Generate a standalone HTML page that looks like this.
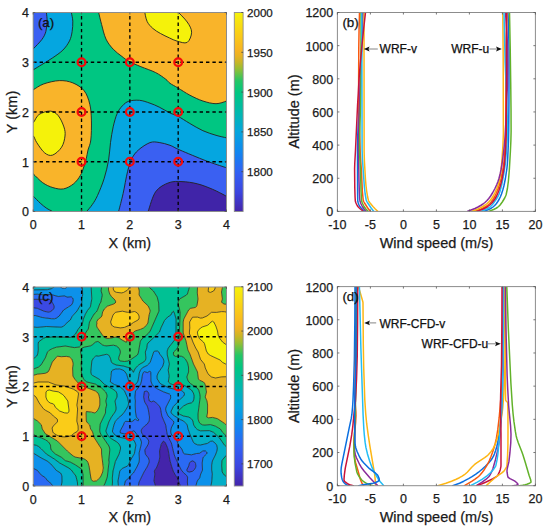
<!DOCTYPE html><html><head><meta charset="utf-8"><style>html,body{margin:0;padding:0;background:#fff;width:550px;height:532px;overflow:hidden}svg{display:block}</style></head><body><svg width="550" height="532" viewBox="0 0 550 532" font-family='"Liberation Sans", sans-serif'><rect width="550" height="532" fill="#fff"/><defs><clipPath id="clipA"><rect x="33.2" y="12.5" width="193.3" height="199.0"/></clipPath></defs><g clip-path="url(#clipA)"><rect x="33.2" y="12.5" width="193.3" height="199.0" fill="#00c682"/><path d="M71.40 10.00C71.40 10.43 71.17 10.73 71.40 12.60C71.63 14.47 72.68 18.02 72.80 21.20C72.92 24.38 72.65 28.42 72.10 31.70C71.55 34.98 71.03 37.83 69.50 40.90C67.97 43.97 65.75 47.25 62.90 50.10C60.05 52.95 55.92 55.58 52.40 58.00C48.88 60.42 44.98 62.63 41.80 64.60C38.62 66.57 35.27 68.57 33.30 69.80C31.33 71.03 30.55 71.63 30.00 72.00L30 10Z" fill="#05a6e0"/><path d="M46.20 10.00C46.23 10.43 46.25 10.73 46.40 12.60C46.55 14.47 47.20 18.02 47.10 21.20C47.00 24.38 46.68 28.63 45.80 31.70C44.92 34.77 43.88 36.75 41.80 39.60C39.72 42.45 35.27 46.73 33.30 48.80C31.33 50.87 30.55 51.47 30.00 52.00L30 10Z" fill="#3a60f2"/><path d="M30.00 193.00C30.53 193.52 31.50 194.42 33.20 196.10C34.90 197.78 37.98 201.08 40.20 203.10C42.42 205.12 44.48 206.82 46.50 208.20C48.52 209.58 50.88 210.43 52.30 211.40C53.72 212.37 54.55 213.57 55.00 214.00L30 214Z" fill="#05a6e0"/><path d="M84.00 214.00C84.43 213.58 85.20 213.10 86.60 211.50C88.00 209.90 90.58 207.07 92.40 204.40C94.22 201.73 95.53 199.83 97.50 195.50C99.47 191.17 102.35 184.32 104.20 178.40C106.05 172.48 107.55 165.97 108.60 160.00C109.65 154.03 109.73 148.13 110.50 142.60C111.27 137.07 112.10 131.62 113.20 126.80C114.30 121.98 115.57 117.20 117.10 113.70C118.63 110.20 120.43 107.88 122.40 105.80C124.37 103.72 126.05 102.12 128.90 101.20C131.75 100.28 135.98 99.97 139.50 100.30C143.02 100.63 146.72 102.07 150.00 103.20C153.28 104.33 155.87 105.47 159.20 107.10C162.53 108.73 166.88 111.48 170.00 113.00C173.12 114.52 174.62 114.47 177.90 116.20C181.18 117.93 185.53 120.98 189.70 123.40C193.87 125.82 198.52 128.72 202.90 130.70C207.28 132.68 212.05 134.10 216.00 135.30C219.95 136.50 224.27 137.28 226.60 137.90C228.93 138.52 229.43 138.82 230.00 139.00L230 214Z" fill="#05a6e0"/><path d="M117.80 214.00C117.95 213.52 117.82 214.50 118.70 211.10C119.58 207.70 121.63 200.15 123.10 193.60C124.57 187.05 126.05 177.62 127.50 171.80C128.95 165.98 129.98 162.33 131.80 158.70C133.62 155.07 135.37 152.68 138.40 150.00C141.43 147.32 146.53 143.85 150.00 142.60C153.47 141.35 155.87 142.05 159.20 142.50C162.53 142.95 166.57 144.05 170.00 145.30C173.43 146.55 173.80 147.42 179.80 150.00C185.80 152.58 198.37 157.88 206.00 160.80C213.63 163.72 221.60 166.13 225.60 167.50C229.60 168.87 229.27 168.75 230.00 169.00L230 214Z" fill="#3a60f2"/><path d="M146.80 214.00C147.03 213.52 146.70 214.85 148.20 211.10C149.70 207.35 152.35 196.23 155.80 191.50C159.25 186.77 164.53 184.35 168.90 182.70C173.27 181.05 177.27 181.42 182.00 181.60C186.73 181.78 192.20 182.52 197.30 183.80C202.40 185.08 207.88 187.30 212.60 189.30C217.32 191.30 222.70 194.27 225.60 195.80C228.50 197.33 229.27 198.05 230.00 198.50L230 214Z" fill="#4024a8"/><path d="M98.40 10.00C98.45 10.43 98.17 10.18 98.70 12.60C99.23 15.02 100.38 20.08 101.60 24.50C102.82 28.92 104.05 34.97 106.00 39.10C107.95 43.23 110.63 46.40 113.30 49.30C115.97 52.20 119.33 54.45 122.00 56.50C124.67 58.55 126.15 59.90 129.30 61.60C132.45 63.30 136.53 64.88 140.90 66.70C145.27 68.52 151.38 70.43 155.50 72.50C159.62 74.57 163.18 77.30 165.60 79.10C168.02 80.90 167.95 81.83 170.00 83.30C172.05 84.77 174.62 85.93 177.90 87.90C181.18 89.87 185.53 92.92 189.70 95.10C193.87 97.28 198.52 99.57 202.90 101.00C207.28 102.43 212.05 103.70 216.00 103.70C219.95 103.70 224.27 101.78 226.60 101.00C228.93 100.22 229.43 99.33 230.00 99.00L230 10Z" fill="#f9b42a"/><path d="M30.00 90.50C30.55 90.37 31.05 90.78 33.30 89.70C35.55 88.62 39.17 85.52 43.50 84.00C47.83 82.48 54.40 80.78 59.30 80.60C64.20 80.42 68.75 81.20 72.90 82.90C77.05 84.60 81.38 87.23 84.20 90.80C87.02 94.37 88.60 99.42 89.80 104.30C91.00 109.18 91.23 114.15 91.40 120.10C91.57 126.05 91.37 135.02 90.80 140.00C90.23 144.98 88.75 146.92 88.00 150.00C87.25 153.08 87.00 155.68 86.30 158.50C85.60 161.32 84.78 164.08 83.80 166.90C82.82 169.72 82.10 172.58 80.40 175.40C78.70 178.22 76.42 181.55 73.60 183.80C70.78 186.05 66.95 188.27 63.50 188.90C60.05 189.53 56.37 188.63 52.90 187.60C49.43 186.57 45.98 185.00 42.70 182.70C39.42 180.40 35.32 175.75 33.20 173.80C31.08 171.85 30.53 171.47 30.00 171.00Z" fill="#f9b42a"/><path d="M144.50 11.00C144.93 12.73 145.72 18.50 147.10 21.40C148.48 24.30 150.57 26.38 152.80 28.40C155.03 30.42 157.73 31.92 160.50 33.50C163.27 35.08 166.65 36.63 169.40 37.90C172.15 39.17 174.03 40.35 177.00 41.10C179.97 41.85 184.77 43.88 187.20 42.40C189.63 40.92 191.60 35.60 191.60 32.20C191.60 28.80 189.63 25.53 187.20 22.00C184.77 18.47 178.70 12.83 177.00 11.00Z" fill="#f5f20a"/><path d="M30.00 122.00C30.57 122.07 31.90 123.65 33.40 122.40C34.90 121.15 36.18 116.38 39.00 114.50C41.82 112.62 47.10 110.92 50.30 111.10C53.50 111.28 55.93 112.97 58.20 115.60C60.47 118.23 62.77 123.50 63.90 126.90C65.03 130.30 65.38 132.62 65.00 136.00C64.62 139.38 63.67 144.02 61.60 147.20C59.53 150.38 55.42 154.15 52.60 155.10C49.78 156.05 47.33 154.97 44.70 152.90C42.07 150.83 38.68 145.52 36.80 142.70C34.92 139.88 34.53 137.12 33.40 136.00C32.27 134.88 30.57 136.00 30.00 136.00Z" fill="#f5f20a"/><path d="M71.40 10.00C71.40 10.43 71.17 10.73 71.40 12.60C71.63 14.47 72.68 18.02 72.80 21.20C72.92 24.38 72.65 28.42 72.10 31.70C71.55 34.98 71.03 37.83 69.50 40.90C67.97 43.97 65.75 47.25 62.90 50.10C60.05 52.95 55.92 55.58 52.40 58.00C48.88 60.42 44.98 62.63 41.80 64.60C38.62 66.57 35.27 68.57 33.30 69.80C31.33 71.03 30.55 71.63 30.00 72.00" fill="none" stroke="#222" stroke-width="0.9"/><path d="M46.20 10.00C46.23 10.43 46.25 10.73 46.40 12.60C46.55 14.47 47.20 18.02 47.10 21.20C47.00 24.38 46.68 28.63 45.80 31.70C44.92 34.77 43.88 36.75 41.80 39.60C39.72 42.45 35.27 46.73 33.30 48.80C31.33 50.87 30.55 51.47 30.00 52.00" fill="none" stroke="#222" stroke-width="0.9"/><path d="M30.00 193.00C30.53 193.52 31.50 194.42 33.20 196.10C34.90 197.78 37.98 201.08 40.20 203.10C42.42 205.12 44.48 206.82 46.50 208.20C48.52 209.58 50.88 210.43 52.30 211.40C53.72 212.37 54.55 213.57 55.00 214.00" fill="none" stroke="#222" stroke-width="0.9"/><path d="M84.00 214.00C84.43 213.58 85.20 213.10 86.60 211.50C88.00 209.90 90.58 207.07 92.40 204.40C94.22 201.73 95.53 199.83 97.50 195.50C99.47 191.17 102.35 184.32 104.20 178.40C106.05 172.48 107.55 165.97 108.60 160.00C109.65 154.03 109.73 148.13 110.50 142.60C111.27 137.07 112.10 131.62 113.20 126.80C114.30 121.98 115.57 117.20 117.10 113.70C118.63 110.20 120.43 107.88 122.40 105.80C124.37 103.72 126.05 102.12 128.90 101.20C131.75 100.28 135.98 99.97 139.50 100.30C143.02 100.63 146.72 102.07 150.00 103.20C153.28 104.33 155.87 105.47 159.20 107.10C162.53 108.73 166.88 111.48 170.00 113.00C173.12 114.52 174.62 114.47 177.90 116.20C181.18 117.93 185.53 120.98 189.70 123.40C193.87 125.82 198.52 128.72 202.90 130.70C207.28 132.68 212.05 134.10 216.00 135.30C219.95 136.50 224.27 137.28 226.60 137.90C228.93 138.52 229.43 138.82 230.00 139.00" fill="none" stroke="#222" stroke-width="0.9"/><path d="M117.80 214.00C117.95 213.52 117.82 214.50 118.70 211.10C119.58 207.70 121.63 200.15 123.10 193.60C124.57 187.05 126.05 177.62 127.50 171.80C128.95 165.98 129.98 162.33 131.80 158.70C133.62 155.07 135.37 152.68 138.40 150.00C141.43 147.32 146.53 143.85 150.00 142.60C153.47 141.35 155.87 142.05 159.20 142.50C162.53 142.95 166.57 144.05 170.00 145.30C173.43 146.55 173.80 147.42 179.80 150.00C185.80 152.58 198.37 157.88 206.00 160.80C213.63 163.72 221.60 166.13 225.60 167.50C229.60 168.87 229.27 168.75 230.00 169.00" fill="none" stroke="#222" stroke-width="0.9"/><path d="M146.80 214.00C147.03 213.52 146.70 214.85 148.20 211.10C149.70 207.35 152.35 196.23 155.80 191.50C159.25 186.77 164.53 184.35 168.90 182.70C173.27 181.05 177.27 181.42 182.00 181.60C186.73 181.78 192.20 182.52 197.30 183.80C202.40 185.08 207.88 187.30 212.60 189.30C217.32 191.30 222.70 194.27 225.60 195.80C228.50 197.33 229.27 198.05 230.00 198.50" fill="none" stroke="#222" stroke-width="0.9"/><path d="M98.40 10.00C98.45 10.43 98.17 10.18 98.70 12.60C99.23 15.02 100.38 20.08 101.60 24.50C102.82 28.92 104.05 34.97 106.00 39.10C107.95 43.23 110.63 46.40 113.30 49.30C115.97 52.20 119.33 54.45 122.00 56.50C124.67 58.55 126.15 59.90 129.30 61.60C132.45 63.30 136.53 64.88 140.90 66.70C145.27 68.52 151.38 70.43 155.50 72.50C159.62 74.57 163.18 77.30 165.60 79.10C168.02 80.90 167.95 81.83 170.00 83.30C172.05 84.77 174.62 85.93 177.90 87.90C181.18 89.87 185.53 92.92 189.70 95.10C193.87 97.28 198.52 99.57 202.90 101.00C207.28 102.43 212.05 103.70 216.00 103.70C219.95 103.70 224.27 101.78 226.60 101.00C228.93 100.22 229.43 99.33 230.00 99.00" fill="none" stroke="#222" stroke-width="0.9"/><path d="M30.00 90.50C30.55 90.37 31.05 90.78 33.30 89.70C35.55 88.62 39.17 85.52 43.50 84.00C47.83 82.48 54.40 80.78 59.30 80.60C64.20 80.42 68.75 81.20 72.90 82.90C77.05 84.60 81.38 87.23 84.20 90.80C87.02 94.37 88.60 99.42 89.80 104.30C91.00 109.18 91.23 114.15 91.40 120.10C91.57 126.05 91.37 135.02 90.80 140.00C90.23 144.98 88.75 146.92 88.00 150.00C87.25 153.08 87.00 155.68 86.30 158.50C85.60 161.32 84.78 164.08 83.80 166.90C82.82 169.72 82.10 172.58 80.40 175.40C78.70 178.22 76.42 181.55 73.60 183.80C70.78 186.05 66.95 188.27 63.50 188.90C60.05 189.53 56.37 188.63 52.90 187.60C49.43 186.57 45.98 185.00 42.70 182.70C39.42 180.40 35.32 175.75 33.20 173.80C31.08 171.85 30.53 171.47 30.00 171.00" fill="none" stroke="#222" stroke-width="0.9"/><path d="M144.50 11.00C144.93 12.73 145.72 18.50 147.10 21.40C148.48 24.30 150.57 26.38 152.80 28.40C155.03 30.42 157.73 31.92 160.50 33.50C163.27 35.08 166.65 36.63 169.40 37.90C172.15 39.17 174.03 40.35 177.00 41.10C179.97 41.85 184.77 43.88 187.20 42.40C189.63 40.92 191.60 35.60 191.60 32.20C191.60 28.80 189.63 25.53 187.20 22.00C184.77 18.47 178.70 12.83 177.00 11.00" fill="none" stroke="#222" stroke-width="0.9"/><path d="M30.00 122.00C30.57 122.07 31.90 123.65 33.40 122.40C34.90 121.15 36.18 116.38 39.00 114.50C41.82 112.62 47.10 110.92 50.30 111.10C53.50 111.28 55.93 112.97 58.20 115.60C60.47 118.23 62.77 123.50 63.90 126.90C65.03 130.30 65.38 132.62 65.00 136.00C64.62 139.38 63.67 144.02 61.60 147.20C59.53 150.38 55.42 154.15 52.60 155.10C49.78 156.05 47.33 154.97 44.70 152.90C42.07 150.83 38.68 145.52 36.80 142.70C34.92 139.88 34.53 137.12 33.40 136.00C32.27 134.88 30.57 136.00 30.00 136.00" fill="none" stroke="#222" stroke-width="0.9"/><path d="M81.53 211.5V12.5" stroke="#000" stroke-width="1.35" stroke-dasharray="3.4 3.0"/><path d="M33.2 161.75H226.5" stroke="#000" stroke-width="1.35" stroke-dasharray="3.4 3.0"/><path d="M129.85 211.5V12.5" stroke="#000" stroke-width="1.35" stroke-dasharray="3.4 3.0"/><path d="M33.2 112.00H226.5" stroke="#000" stroke-width="1.35" stroke-dasharray="3.4 3.0"/><path d="M178.18 211.5V12.5" stroke="#000" stroke-width="1.35" stroke-dasharray="3.4 3.0"/><path d="M33.2 62.25H226.5" stroke="#000" stroke-width="1.35" stroke-dasharray="3.4 3.0"/></g><circle cx="81.53" cy="161.75" r="3.9" fill="none" stroke="#f50a0a" stroke-width="2.2"/><circle cx="81.53" cy="112.00" r="3.9" fill="none" stroke="#f50a0a" stroke-width="2.2"/><circle cx="81.53" cy="62.25" r="3.9" fill="none" stroke="#f50a0a" stroke-width="2.2"/><circle cx="129.85" cy="161.75" r="3.9" fill="none" stroke="#f50a0a" stroke-width="2.2"/><circle cx="129.85" cy="112.00" r="3.9" fill="none" stroke="#f50a0a" stroke-width="2.2"/><circle cx="129.85" cy="62.25" r="3.9" fill="none" stroke="#f50a0a" stroke-width="2.2"/><circle cx="178.18" cy="161.75" r="3.9" fill="none" stroke="#f50a0a" stroke-width="2.2"/><circle cx="178.18" cy="112.00" r="3.9" fill="none" stroke="#f50a0a" stroke-width="2.2"/><circle cx="178.18" cy="62.25" r="3.9" fill="none" stroke="#f50a0a" stroke-width="2.2"/><text x="37.9" y="26.8" font-size="13.4" fill="#111" stroke="#111" stroke-width="0.25">(a)</text><defs><clipPath id="clipB"><rect x="337.4" y="12.5" width="198.0" height="198.9"/></clipPath></defs><g clip-path="url(#clipB)" fill="none" stroke-width="1.5" stroke-linejoin="round"><path d="M363.00 12.50L360.42 82.00L358.34 121.00L357.72 136.00L357.50 149.00L357.61 193.50L357.78 201.00L358.26 203.00L359.00 205.00L359.84 206.50L361.11 208.00L362.73 209.50L365.30 211.50" stroke="#0a6fe0"/><path d="M508.00 12.50L508.74 35.50L509.06 52.00L508.94 103.00L508.69 131.00L508.46 141.50L507.65 159.50L507.36 164.00L506.90 168.50L505.33 179.00L503.86 186.00L502.78 190.00L501.50 194.00L500.52 196.50L499.29 199.00L497.82 201.50L496.44 203.50L494.69 205.50L493.00 207.00L491.53 208.00L489.69 209.00L483.90 211.50" stroke="#0a6fe0"/><path d="M359.50 12.50L359.07 29.50L358.78 47.50L358.62 87.00L359.11 118.00L360.26 153.50L361.49 171.50L362.34 191.00L363.20 200.00L363.67 201.50L364.52 203.00L367.40 207.50L370.40 211.50" stroke="#f85a10"/><path d="M507.00 12.50L506.35 37.00L506.04 54.50L505.73 134.50L505.38 143.00L504.73 152.50L503.80 163.00L502.98 169.00L500.97 179.00L498.98 186.00L497.55 190.00L495.90 194.00L494.45 197.00L492.95 199.50L491.10 202.00L489.68 203.50L487.91 205.00L485.79 206.50L484.14 207.50L481.01 209.00L474.40 211.50" stroke="#f85a10"/><path d="M364.00 12.50L364.11 151.50L364.40 161.00L365.44 179.00L365.99 185.50L366.64 191.00L367.55 196.50L368.45 200.50L368.96 201.50L369.65 202.50L372.95 206.50L375.32 209.00L378.00 211.50" stroke="#fdb614"/><path d="M502.80 12.50L503.19 58.50L503.37 133.50L502.95 145.00L501.91 160.50L501.17 169.00L500.24 176.00L499.71 179.00L498.99 182.00L498.06 185.00L496.76 188.50L495.01 192.50L493.52 195.50L491.96 198.00L490.45 200.00L488.70 202.00L487.10 203.50L485.15 205.00L482.85 206.50L481.09 207.50L477.86 209.00L471.20 211.50" stroke="#fdb614"/><path d="M362.50 12.50L360.41 83.00L359.11 119.00L358.67 134.50L358.51 153.00L359.00 181.00L359.38 193.00L359.73 199.00L359.95 201.00L360.82 203.50L362.32 206.50L364.17 209.00L366.50 211.50" stroke="#8a2c9c"/><path d="M505.50 12.50L506.92 32.50L507.66 49.50L507.78 65.50L507.42 85.50L506.45 111.00L505.05 137.00L504.29 145.50L503.34 154.00L502.09 163.50L501.07 169.50L500.12 174.00L498.96 178.50L497.98 181.50L496.80 184.50L494.93 188.50L492.78 192.50L490.63 196.00L488.77 198.50L487.01 200.50L484.94 202.50L482.98 204.00L480.65 205.50L478.00 207.00L474.91 208.50L467.20 211.50" stroke="#8a2c9c"/><path d="M361.00 12.50L360.97 86.00L360.70 100.00L359.66 136.00L359.51 147.50L359.58 154.00L360.48 169.50L361.05 191.50L361.56 200.50L362.30 203.00L364.03 206.50L365.91 209.00L368.30 211.50" stroke="#62b22a"/><path d="M509.50 12.50L510.18 46.00L510.71 82.50L511.02 110.00L511.10 131.50L510.89 140.50L510.38 151.50L509.33 170.00L508.40 181.00L507.42 188.50L506.17 194.50L505.64 196.00L504.70 198.00L502.30 202.00L500.08 205.00L498.59 206.50L497.33 207.50L495.65 208.50L493.60 209.50L488.70 211.50" stroke="#62b22a"/><path d="M361.80 12.50L362.10 150.00L362.42 159.00L364.36 187.00L365.17 194.00L366.20 200.00L366.53 201.00L367.38 202.50L371.14 208.00L373.80 211.50" stroke="#22bdf5"/><path d="M504.00 12.50L505.17 62.50L507.03 107.00L507.48 126.00L507.45 134.00L507.13 142.00L506.44 151.50L505.24 164.50L503.91 173.50L501.69 185.00L499.96 191.50L499.10 194.00L498.20 196.00L496.40 199.00L493.23 203.50L492.05 205.00L490.58 206.50L489.33 207.50L486.67 209.00L480.70 211.50" stroke="#22bdf5"/><path d="M365.50 12.50L363.57 29.50L361.71 48.00L360.22 64.00L359.20 77.00L357.52 106.00L355.48 150.50L354.78 163.00L354.60 169.00L354.77 187.50L355.07 197.00L355.33 201.00L355.77 202.50L356.41 204.00L357.18 205.50L357.87 206.50L358.74 207.50L360.34 209.00L363.60 211.50" stroke="#c8143c"/><path d="M506.50 12.50L506.27 133.50L506.00 142.00L505.44 152.00L504.61 163.00L503.89 169.00L502.09 179.00L501.16 183.00L500.18 186.50L498.86 190.50L497.50 194.00L496.33 196.50L494.87 199.00L493.48 201.00L491.84 203.00L489.72 205.00L487.74 206.50L486.19 207.50L483.19 209.00L476.80 211.50" stroke="#c8143c"/></g><text x="342.4" y="26.8" font-size="13.4" fill="#111" stroke="#111" stroke-width="0.25">(b)</text><path d="M377.8 49H368" stroke="#666" stroke-width="0.8"/><path d="M363.8 49L369.6 46.6L368.4 49L369.6 51.4Z" fill="#111"/><text x="379.6" y="53.3" font-size="12" fill="#111" stroke="#111" stroke-width="0.25">WRF-v</text><path d="M489.5 49H497.5" stroke="#666" stroke-width="0.8"/><path d="M501.8 49L496 46.6L497.2 49L496 51.4Z" fill="#111"/><text x="451.2" y="53.3" font-size="12" fill="#111" stroke="#111" stroke-width="0.25">WRF-u</text><defs><clipPath id="clipC"><rect x="33.3" y="287.0" width="193.2" height="199.0"/></clipPath></defs><g clip-path="url(#clipC)"><path d="M162.5 442.0L163.4 441.1L164.4 441.6L165.5 443.0L167.4 447.3L168.2 450.0L169.8 460.0L171.8 467.0L173.6 472.0L177.8 479.0L180.4 486.0L155.5 486.0L154.0 481.0L154.8 474.0L154.3 471.0L156.9 467.0L159.4 459.8L159.8 457.0L159.5 451.0L161.0 445.0L162.5 442.0Z" fill="#4424aa" stroke="#4424aa" stroke-width="0.3" fill-rule="evenodd"/><path d="M33.3 300.0L33.3 299.3L49.3 299.4L50.5 300.0L52.0 302.0L54.1 306.0L54.1 308.0L52.8 310.0L51.3 311.2L48.3 312.1L44.3 311.3L37.3 308.3L33.3 307.7L33.3 300.0ZM144.2 392.0L144.4 391.5L146.4 391.1L147.4 391.4L148.4 392.6L149.0 395.0L148.4 397.0L149.3 401.0L151.4 401.8L153.4 401.1L155.4 402.0L159.4 406.2L160.4 408.0L161.8 416.0L165.7 425.0L167.1 434.0L168.2 437.0L171.4 443.0L174.0 454.0L175.0 457.0L181.3 470.0L183.5 472.7L186.5 475.3L187.6 477.0L187.4 482.0L187.7 486.0L180.4 486.0L177.8 479.0L173.6 472.0L171.8 467.0L169.8 460.0L168.2 450.0L167.4 447.3L165.4 442.9L164.4 441.6L163.4 441.1L161.3 444.0L159.5 451.0L159.8 457.0L159.1 461.0L156.9 467.0L154.3 471.0L154.8 474.0L154.0 481.0L155.5 486.0L138.3 486.0L139.1 482.0L144.0 472.0L147.1 467.0L148.9 463.0L149.3 461.0L148.4 458.0L145.4 454.2L144.8 450.0L148.4 444.0L148.8 441.0L147.0 438.0L144.1 436.0L142.4 434.2L141.7 433.0L141.2 431.0L141.4 429.8L142.6 428.0L144.4 426.1L147.3 424.0L149.2 421.0L149.5 417.0L148.2 409.0L147.2 406.0L144.7 402.0L143.6 397.0L144.2 392.0ZM192.0 461.0L192.9 461.0L194.5 461.8L195.5 463.4L195.9 466.0L195.5 467.7L194.5 469.5L192.5 471.3L190.5 472.0L188.5 472.0L187.1 471.0L186.7 470.0L187.0 469.0L188.7 466.0L189.5 463.0L190.5 461.7L192.0 461.0Z" fill="#3b49e3" stroke="#3b49e3" stroke-width="0.3" fill-rule="evenodd"/><path d="M33.3 295.0L33.3 294.4L37.3 294.2L45.3 295.0L50.3 294.3L58.3 296.5L64.3 295.9L67.3 297.1L71.3 296.8L72.3 297.5L73.2 299.0L73.2 301.0L72.7 303.0L71.3 305.1L63.6 310.0L59.3 315.9L57.3 317.7L53.3 318.8L43.3 317.6L35.3 315.5L33.3 315.6L33.3 307.7L37.3 308.3L45.3 311.6L49.3 312.0L51.3 311.2L53.6 309.0L54.3 307.0L53.7 305.0L51.4 301.0L50.3 299.8L49.3 299.4L33.3 299.3L33.3 295.0ZM143.7 372.0L144.4 371.6L147.4 372.6L149.4 371.4L150.4 371.5L151.0 373.0L150.7 377.0L150.9 381.0L151.9 384.0L153.2 386.0L157.4 388.9L163.4 391.8L169.4 394.0L170.5 395.0L170.7 398.0L166.1 407.0L165.6 409.0L165.9 411.0L168.0 416.0L173.3 421.0L173.8 422.0L173.8 423.0L171.6 427.0L170.8 430.0L170.7 432.0L171.2 434.0L172.4 435.9L175.4 438.8L177.0 441.0L178.5 445.0L181.8 449.0L183.5 453.3L184.8 454.0L191.5 454.8L196.5 453.5L199.5 453.3L202.5 451.2L203.5 450.9L205.5 451.0L206.7 452.0L207.1 453.0L206.6 454.0L203.5 456.9L202.9 458.0L202.2 463.0L202.5 470.1L200.7 474.0L199.7 478.0L197.9 480.0L196.9 482.0L195.9 486.0L187.7 486.0L187.4 482.0L187.6 477.0L186.5 475.3L183.5 472.7L181.3 470.0L175.0 457.0L174.0 454.0L171.4 443.0L168.2 437.0L167.1 434.0L165.7 425.0L161.8 416.0L160.4 408.0L159.4 406.2L155.4 402.0L153.4 401.1L151.4 401.8L149.3 401.0L148.4 397.0L149.0 395.0L148.6 393.0L147.4 391.4L146.4 391.1L144.4 391.5L143.6 397.0L144.7 402.0L147.2 406.0L148.2 409.0L149.5 417.0L149.2 421.0L147.3 424.0L144.4 426.1L142.6 428.0L141.4 429.8L141.2 431.0L141.7 433.0L142.4 434.2L144.1 436.0L147.0 438.0L148.8 441.0L148.4 444.0L144.8 450.0L145.4 454.2L147.7 457.0L148.8 459.0L149.1 462.0L147.1 467.0L144.0 472.0L139.5 481.0L138.3 486.0L124.2 486.0L125.4 480.8L128.9 478.0L131.4 474.7L133.4 473.0L136.9 467.0L139.1 462.0L139.4 459.0L139.1 453.0L141.3 444.0L141.5 442.0L140.4 439.0L134.4 431.2L133.4 430.9L129.2 433.0L124.4 433.9L120.4 433.0L120.1 431.0L123.4 425.0L124.4 422.5L125.4 421.3L131.4 421.7L133.2 421.0L134.4 419.5L135.4 419.2L137.4 420.5L138.4 420.6L138.7 420.0L138.4 419.0L137.4 418.4L136.4 417.1L135.6 413.0L135.2 405.0L135.4 401.0L134.9 396.0L135.5 391.0L138.9 387.0L141.0 383.0L142.4 374.9L143.7 372.0ZM192.5 460.9L190.5 461.7L189.5 463.0L188.7 466.0L186.7 470.0L187.5 471.6L189.5 472.0L192.5 471.3L194.5 469.5L195.5 467.7L195.9 466.0L195.5 463.4L194.5 461.8L192.5 460.9ZM33.3 469.0L33.3 468.3L37.3 470.3L41.3 475.1L45.3 477.6L47.3 480.5L49.5 482.0L53.0 486.0L33.3 486.0L33.3 469.0Z" fill="#2a6af4" stroke="#2a6af4" stroke-width="0.3" fill-rule="evenodd"/><path d="M52.8 288.0L54.1 287.0L60.2 287.0L62.3 288.0L64.3 288.2L66.1 288.0L66.7 287.0L82.3 287.0L82.7 295.0L81.4 299.0L81.9 302.0L81.7 303.0L77.0 311.0L72.3 316.2L70.3 320.0L62.4 327.0L61.3 327.2L46.3 326.5L37.3 327.4L33.3 327.0L33.3 315.6L35.3 315.5L43.3 317.6L52.3 318.8L55.3 318.6L58.3 317.0L63.6 310.0L70.3 306.1L72.3 303.7L73.2 301.0L73.2 299.0L72.3 297.5L71.3 296.8L67.3 297.1L64.3 295.9L58.3 296.5L50.3 294.3L45.3 295.0L37.3 294.2L33.3 294.4L33.3 289.9L46.3 289.8L50.5 289.0L52.8 288.0ZM157.3 351.0L158.4 351.4L158.9 352.0L159.7 354.0L162.4 357.4L163.4 359.2L163.8 361.0L163.8 363.0L162.9 366.0L158.1 373.0L157.0 376.0L157.2 379.0L158.7 381.0L158.9 382.0L160.9 384.0L169.3 388.0L181.5 390.6L183.6 392.0L184.6 394.0L183.8 396.0L178.3 401.0L177.8 402.0L173.4 406.5L171.2 411.0L171.0 412.0L171.4 413.1L172.4 414.4L174.4 415.9L180.5 419.7L183.6 421.0L186.5 424.0L187.2 425.0L188.0 429.0L190.2 435.0L193.3 442.0L194.5 443.5L197.5 444.8L200.5 445.0L207.5 443.4L210.5 441.3L212.5 441.1L214.5 442.5L216.7 445.0L217.3 448.0L216.9 451.0L215.4 455.0L212.4 461.0L211.7 465.0L211.7 470.0L212.3 474.0L211.7 482.0L210.9 486.0L195.9 486.0L196.9 482.0L197.9 480.0L199.7 478.0L200.7 474.0L202.5 470.1L202.2 463.0L202.9 458.0L203.5 456.9L206.6 454.0L207.1 453.0L206.7 452.0L205.5 451.0L203.5 450.9L202.5 451.2L199.5 453.3L196.5 453.5L191.5 454.8L184.8 454.0L183.5 453.3L181.8 449.0L178.5 445.0L177.0 441.0L175.4 438.8L172.4 435.9L171.2 434.0L170.7 432.0L170.8 430.0L171.6 427.0L173.8 423.0L173.8 422.0L173.3 421.0L168.0 416.0L165.9 411.0L165.6 409.0L166.1 407.0L170.7 398.0L170.5 395.0L169.4 394.0L163.4 391.8L157.4 388.9L153.2 386.0L151.9 384.0L150.9 381.0L150.8 372.0L150.4 371.5L149.4 371.4L147.4 372.6L144.4 371.6L143.4 372.4L142.4 374.9L141.5 381.0L140.6 384.0L138.9 387.0L135.5 391.0L134.9 397.0L135.4 401.0L135.2 405.0L135.5 412.0L136.4 417.1L137.4 418.4L138.4 419.0L138.7 420.0L138.4 420.6L137.4 420.5L135.4 419.2L134.4 419.5L133.2 421.0L131.4 421.7L125.4 421.3L124.4 422.5L123.4 425.0L120.1 431.0L120.4 433.0L124.4 433.9L129.2 433.0L133.4 430.9L134.4 431.2L140.4 439.0L141.3 441.0L141.5 443.0L139.1 453.0L139.4 459.0L139.1 462.0L136.9 467.0L133.4 473.0L131.4 474.7L128.9 478.0L125.4 480.8L124.2 486.0L118.4 486.0L118.0 481.0L119.8 471.0L122.4 468.3L127.4 466.1L128.4 465.0L130.4 460.4L134.4 453.6L135.9 445.0L134.9 442.0L133.5 440.0L132.1 439.0L130.4 438.5L126.4 438.5L118.4 437.1L115.0 435.0L112.6 432.0L112.4 431.0L113.9 425.0L115.4 421.3L118.4 417.9L122.0 415.0L124.4 412.0L128.1 406.0L128.6 403.0L127.6 398.0L124.4 390.7L119.4 386.3L114.4 384.5L110.3 382.0L111.4 372.0L111.7 371.0L112.8 370.0L115.6 369.0L119.4 368.9L122.8 370.0L124.4 371.1L126.6 374.0L129.6 384.0L130.4 385.0L131.4 385.4L134.4 385.2L136.4 383.6L138.0 381.0L139.3 373.0L140.5 370.0L142.4 367.8L147.4 365.3L148.8 364.0L150.3 362.0L153.7 352.0L154.4 351.2L157.3 351.0ZM33.3 454.0L33.3 453.1L41.3 458.0L47.1 461.0L50.9 464.0L56.3 470.4L60.5 473.0L61.2 474.0L61.9 476.0L62.0 482.0L61.2 486.0L53.0 486.0L49.5 482.0L47.3 480.5L45.3 477.6L41.3 475.1L37.3 470.3L33.3 468.3L33.3 454.0Z" fill="#0c91ea" stroke="#0c91ea" stroke-width="0.3" fill-rule="evenodd"/><path d="M33.3 287.0L54.1 287.0L50.3 289.1L43.3 289.9L33.3 289.9L33.3 287.0ZM82.3 287.0L91.2 287.0L91.6 301.0L90.3 307.0L87.4 310.6L85.4 314.1L83.4 319.0L82.3 324.0L78.3 329.0L75.6 334.0L72.3 336.9L70.3 337.4L53.3 336.8L49.3 337.3L46.3 337.2L43.3 338.4L38.5 342.0L38.2 344.0L38.3 350.0L37.7 354.0L36.8 356.0L33.3 358.9L33.3 327.0L37.3 327.4L46.3 326.5L61.3 327.2L63.9 326.0L67.7 322.0L70.3 320.0L72.3 316.2L77.0 311.0L81.7 303.0L81.9 302.0L81.4 299.0L82.7 295.0L82.3 287.0ZM172.4 312.0L173.4 311.2L174.0 312.0L176.1 319.0L176.0 332.0L175.3 338.0L174.6 340.0L168.3 348.0L167.2 351.0L167.3 355.0L169.4 364.0L168.2 370.0L169.2 376.0L168.3 382.0L170.4 383.7L172.4 384.5L175.4 384.8L180.5 384.3L182.5 384.7L185.5 386.2L191.5 390.0L193.4 393.0L194.2 396.0L193.7 400.0L192.5 402.2L191.5 402.8L187.5 403.8L183.5 406.0L178.2 411.0L177.8 413.0L179.5 414.2L183.5 416.0L188.7 417.0L191.5 418.8L192.9 421.0L193.7 425.0L195.7 428.0L197.5 429.6L200.5 430.8L209.5 430.6L213.5 432.3L219.5 437.9L224.5 445.2L226.5 446.9L226.5 455.1L222.3 460.0L221.9 461.0L221.7 466.0L222.2 472.0L224.2 475.0L226.5 476.6L226.5 486.0L210.9 486.0L211.7 482.0L212.3 474.0L211.7 470.0L211.7 465.0L212.4 461.0L215.4 455.0L216.9 451.0L217.2 447.0L216.5 444.6L213.5 441.7L211.5 441.1L207.5 443.4L201.5 444.9L197.5 444.8L194.5 443.5L193.3 442.0L190.2 435.0L188.0 429.0L187.2 425.0L186.5 424.0L183.6 421.0L180.5 419.7L174.4 415.9L172.4 414.4L171.4 413.0L171.0 412.0L171.2 411.0L173.4 406.5L177.8 402.0L178.3 401.0L183.8 396.0L184.6 394.0L183.6 392.0L181.5 390.6L169.3 388.0L160.9 384.0L158.9 382.0L158.7 381.0L157.2 379.0L157.0 376.0L158.1 373.0L162.9 366.0L163.9 362.0L163.7 360.0L162.8 358.0L159.7 354.0L158.9 352.0L157.4 351.0L154.4 351.2L153.7 352.0L150.3 362.0L148.8 364.0L147.4 365.3L142.4 367.8L140.5 370.0L139.3 373.0L138.0 381.0L136.4 383.6L134.4 385.2L131.4 385.4L130.4 385.0L129.6 384.0L128.5 381.0L127.1 375.0L125.4 372.2L123.4 370.3L120.4 369.1L117.4 368.8L113.4 369.7L111.7 371.0L110.7 376.0L110.3 382.0L114.4 384.5L119.4 386.3L124.4 390.7L127.6 398.0L128.6 403.0L128.1 406.0L124.4 412.0L122.0 415.0L118.4 417.9L115.4 421.3L113.9 425.0L112.4 431.0L112.6 432.0L115.0 435.0L118.4 437.1L126.4 438.5L130.4 438.5L132.1 439.0L133.5 440.0L134.9 442.0L135.9 445.0L134.4 453.6L130.4 460.4L128.4 465.0L127.4 466.1L122.4 468.3L119.8 471.0L118.0 481.0L118.4 486.0L112.2 486.0L112.5 482.0L112.3 478.0L113.0 471.0L115.4 461.4L119.1 454.0L120.5 449.0L120.5 447.0L119.0 444.0L116.9 442.0L111.4 438.7L109.2 437.0L107.0 434.0L105.8 431.0L108.8 422.0L111.4 417.1L115.0 412.0L115.9 410.0L116.1 408.0L115.0 401.0L117.0 397.0L117.0 394.0L116.3 392.0L115.4 390.9L112.6 389.0L104.4 384.4L99.4 379.3L92.4 375.4L91.4 374.5L90.8 372.0L91.8 361.0L93.4 358.2L95.4 356.3L96.4 355.9L98.4 356.1L106.4 354.3L107.4 354.5L108.4 354.8L109.4 356.2L110.4 358.2L111.4 362.0L112.4 363.3L116.4 365.0L123.4 366.0L129.9 368.0L131.3 369.0L133.4 372.3L134.9 369.0L137.4 366.0L140.0 364.0L143.8 362.0L145.5 360.0L145.9 358.0L145.3 352.0L146.8 348.0L147.3 344.0L148.0 343.0L159.4 332.2L160.9 328.0L164.4 320.6L167.7 317.0L170.9 315.0L172.4 312.0ZM33.3 445.0L33.3 444.6L35.3 445.0L38.3 446.3L41.3 448.8L46.3 454.0L54.3 459.0L59.7 463.0L68.8 468.0L71.3 470.0L75.9 476.0L77.4 482.0L77.7 486.0L61.2 486.0L62.0 480.0L61.9 476.0L61.2 474.0L60.3 472.9L56.3 470.4L50.9 464.0L47.1 461.0L41.3 458.0L33.3 453.1L33.3 445.0Z" fill="#03aec8" stroke="#03aec8" stroke-width="0.3" fill-rule="evenodd"/><path d="M91.2 287.0L101.7 287.0L101.1 291.0L102.3 295.0L102.1 296.0L100.9 302.0L99.7 304.0L98.0 309.0L96.4 311.9L93.5 315.0L89.5 322.0L88.3 329.0L86.1 332.0L81.0 343.0L80.3 346.1L79.3 347.0L74.3 347.6L65.3 346.0L56.3 347.2L52.3 348.6L49.3 350.2L47.5 352.0L45.3 357.9L41.0 365.0L38.3 367.1L33.3 369.2L33.3 358.9L36.8 356.0L37.7 354.0L38.3 350.0L38.3 343.0L38.5 342.0L39.4 341.0L45.3 337.3L54.3 336.8L70.3 337.4L72.3 336.9L75.6 334.0L78.3 329.0L82.3 324.0L83.4 319.0L85.4 314.1L87.4 310.6L90.4 306.8L91.8 299.0L91.2 287.0ZM149.3 287.0L189.5 287.0L187.4 294.0L186.5 295.0L179.5 299.0L178.1 302.0L178.3 305.0L179.5 309.0L180.1 313.0L179.5 329.0L179.8 341.0L179.1 344.0L176.9 349.0L173.6 352.0L173.4 354.2L174.4 356.0L175.4 356.4L179.5 356.1L181.5 356.3L183.5 357.3L185.5 359.2L187.6 363.0L188.5 367.0L188.6 372.0L186.8 377.0L188.1 381.0L190.5 383.6L197.2 388.0L198.7 390.0L199.8 394.0L200.2 397.0L198.0 414.0L198.1 419.0L199.0 422.0L200.5 423.8L202.5 424.8L204.5 425.1L208.5 424.6L211.5 424.8L214.5 425.7L220.4 429.0L222.5 432.3L226.5 436.1L226.5 446.9L224.5 445.2L219.5 437.9L213.5 432.3L209.5 430.6L200.5 430.8L197.5 429.6L195.7 428.0L193.7 425.0L192.9 421.0L191.5 418.8L188.7 417.0L183.5 416.0L179.5 414.2L177.8 413.0L178.2 411.0L183.5 406.0L187.5 403.8L191.5 402.8L192.5 402.2L193.7 400.0L194.2 396.0L193.4 393.0L191.5 390.0L185.5 386.2L182.5 384.7L180.5 384.3L175.4 384.8L172.4 384.5L170.4 383.7L168.3 382.0L169.2 376.0L168.2 370.0L169.4 364.0L167.3 355.0L167.2 351.0L168.3 348.0L174.6 340.0L175.3 338.0L176.0 332.0L176.1 319.0L174.4 313.2L173.4 311.2L172.4 312.0L170.9 315.0L167.7 317.0L164.4 320.6L160.9 328.0L159.4 332.2L148.0 343.0L147.3 344.0L146.8 348.0L145.3 352.0L145.9 358.0L145.5 360.0L143.8 362.0L140.0 364.0L137.4 366.0L134.9 369.0L133.4 372.3L131.3 369.0L129.9 368.0L123.4 366.0L116.4 365.0L112.4 363.3L111.4 362.0L110.4 358.2L109.4 356.2L108.4 354.8L107.4 354.5L106.4 354.3L98.4 356.1L96.4 355.9L95.4 356.3L93.4 358.2L91.8 361.0L90.8 372.0L91.4 374.5L92.4 375.4L99.4 379.3L104.4 384.4L112.6 389.0L115.4 390.9L116.8 393.0L117.2 395.0L117.0 397.0L115.0 401.0L116.1 408.0L115.9 410.0L115.0 412.0L111.4 417.1L108.8 422.0L105.8 431.0L107.0 434.0L109.2 437.0L111.4 438.7L115.6 441.0L119.0 444.0L120.4 446.5L120.5 449.0L118.7 455.0L115.4 461.4L113.2 470.0L112.3 478.0L112.5 482.0L112.2 486.0L103.7 486.0L105.2 483.0L107.3 477.0L109.0 462.0L108.8 460.0L109.8 450.0L109.6 448.0L108.9 446.0L100.7 434.0L99.9 432.0L99.7 430.0L100.2 424.0L105.5 413.0L105.6 409.0L106.7 405.0L105.8 401.0L106.9 397.0L107.0 395.0L105.7 392.0L101.6 388.0L95.2 384.0L86.9 382.0L85.3 381.0L83.6 379.0L81.9 375.0L81.3 372.0L81.5 368.0L81.1 364.0L81.6 360.0L81.4 356.0L80.5 352.0L80.6 350.0L80.9 349.0L82.1 348.0L84.4 347.1L90.4 345.9L92.1 345.0L95.4 342.2L97.4 341.5L98.4 341.7L102.4 344.9L104.4 345.6L106.4 345.9L113.4 345.2L116.4 346.0L117.9 347.0L119.4 348.8L120.3 351.0L120.3 353.0L118.9 357.0L118.6 359.0L119.0 360.0L120.6 361.0L124.4 361.5L127.4 361.1L130.4 359.8L137.4 355.0L138.3 353.0L140.4 341.0L141.9 339.0L148.4 333.3L150.2 331.0L159.0 311.0L158.7 303.0L157.2 297.0L153.4 291.0L149.9 288.0L149.3 287.0ZM33.3 435.0L33.3 434.3L37.3 436.7L41.3 437.9L47.5 441.0L49.5 443.0L50.3 444.4L51.2 450.0L55.3 454.0L61.3 457.2L65.3 460.6L70.3 462.1L75.3 464.8L81.3 468.9L82.3 471.0L83.1 475.0L83.2 486.0L77.7 486.0L77.4 482.0L75.9 476.0L72.2 471.0L70.1 469.0L59.3 462.7L54.3 459.0L46.3 454.0L41.3 448.8L38.3 446.3L36.3 445.3L33.3 444.6L33.3 435.0ZM225.6 456.0L226.5 455.1L226.5 476.6L224.2 475.0L222.2 472.0L221.7 466.0L221.9 461.0L223.0 459.0L225.6 456.0Z" fill="#00c194" stroke="#00c194" stroke-width="0.3" fill-rule="evenodd"/><path d="M101.7 287.0L108.5 287.0L108.5 290.0L109.7 294.0L111.4 296.5L115.0 300.0L115.8 302.0L115.2 303.0L113.6 304.0L108.4 305.7L105.4 307.7L102.6 312.0L101.9 316.0L100.4 317.8L98.4 319.0L96.5 322.0L97.0 323.0L96.7 326.0L97.5 328.0L103.2 336.0L106.4 338.4L109.4 338.4L115.4 337.1L117.4 337.2L119.4 338.1L122.1 340.0L126.4 342.3L127.1 340.0L130.4 335.3L133.7 332.0L135.4 330.9L140.4 329.4L143.4 328.0L147.4 324.2L147.9 323.0L149.1 315.0L150.1 312.0L150.0 310.0L148.2 306.0L142.9 301.0L139.1 295.0L139.3 291.0L138.3 287.0L149.3 287.0L149.9 288.0L153.4 291.0L156.8 296.0L157.6 298.0L158.9 304.0L159.1 310.0L158.7 312.0L150.2 331.0L148.4 333.3L141.9 339.0L140.4 341.0L138.3 353.0L137.4 355.0L130.4 359.8L127.4 361.1L125.4 361.5L120.4 360.9L119.0 360.0L118.6 359.0L118.9 357.0L120.3 353.0L120.3 351.0L119.4 348.8L117.9 347.0L116.4 346.0L113.4 345.2L106.4 345.9L104.4 345.6L102.4 344.9L98.4 341.7L96.4 341.7L90.4 345.9L83.4 347.4L80.9 349.0L80.5 352.0L81.4 356.0L81.6 360.0L81.1 364.0L81.5 368.0L81.3 372.0L81.9 375.0L83.6 379.0L85.3 381.0L86.9 382.0L95.2 384.0L101.6 388.0L104.9 391.0L106.8 394.0L107.0 396.0L105.8 401.0L106.7 405.0L105.6 409.0L105.5 413.0L100.2 424.0L99.7 431.0L101.3 435.0L108.9 446.0L109.6 448.0L109.9 451.0L107.3 477.0L105.2 483.0L103.7 486.0L83.2 486.0L83.1 475.0L82.3 471.0L81.3 468.9L75.3 464.8L70.3 462.1L65.3 460.6L61.3 457.2L55.3 454.0L51.2 450.0L50.7 448.0L50.5 445.0L48.6 442.0L45.8 440.0L41.3 437.9L37.3 436.7L33.3 434.3L33.3 418.0L34.3 419.1L37.3 420.8L41.3 424.7L42.3 429.0L45.3 433.7L57.4 441.0L67.3 451.0L73.2 456.0L75.3 457.1L83.4 458.6L85.4 459.6L87.1 461.0L88.5 464.0L91.4 479.5L92.4 480.9L93.4 481.3L96.4 480.9L98.4 479.4L100.4 477.1L102.4 472.9L103.3 470.0L103.2 466.0L101.5 453.0L101.7 450.0L100.9 448.0L93.8 437.0L92.9 433.0L92.1 431.0L90.6 429.0L89.7 425.0L87.4 422.8L86.4 421.2L86.1 413.0L86.4 411.5L87.4 411.5L94.4 412.9L96.4 411.8L97.9 410.0L99.3 407.0L99.9 404.0L99.7 398.0L98.5 394.0L97.4 392.4L95.4 391.0L84.4 386.9L80.3 384.6L78.3 383.0L73.9 378.0L72.9 376.0L72.8 375.0L72.6 368.0L73.2 364.0L72.8 362.0L71.8 359.0L69.3 356.9L66.3 356.4L61.3 356.7L57.3 356.2L52.3 361.9L48.8 371.0L48.0 372.0L46.2 373.0L37.3 374.2L33.3 375.4L33.3 369.2L38.3 367.1L41.0 365.0L45.3 357.9L47.5 352.0L49.3 350.2L52.3 348.6L56.3 347.2L65.3 346.0L74.3 347.6L79.3 347.0L80.3 346.1L81.0 343.0L86.1 332.0L88.3 329.0L89.5 322.0L94.1 314.0L96.3 312.0L97.4 310.3L99.7 304.0L100.9 302.0L102.3 295.0L101.1 291.0L101.7 287.0ZM189.3 288.0L189.5 287.0L197.5 287.0L197.3 293.0L198.0 299.0L197.8 302.0L197.1 305.0L196.0 307.0L190.5 308.4L188.5 310.2L183.8 319.0L183.2 322.0L183.1 331.0L183.5 334.1L186.0 341.0L187.9 350.0L189.9 354.0L193.5 364.0L197.5 372.0L198.4 379.0L199.5 380.2L203.5 382.0L204.5 383.1L205.3 385.0L206.5 392.0L205.2 397.0L207.0 401.0L207.6 405.0L207.5 413.0L206.7 417.0L208.5 417.8L212.5 417.4L216.5 418.3L219.5 419.8L225.5 424.2L226.5 425.2L226.5 436.1L222.5 432.3L220.4 429.0L215.1 426.0L210.5 424.6L204.5 425.1L202.5 424.8L200.5 423.8L199.0 422.0L198.1 419.0L198.0 414.0L200.2 397.0L199.8 394.0L198.7 390.0L197.2 388.0L190.5 383.6L188.1 381.0L186.8 377.0L188.6 372.0L188.5 367.0L187.6 363.0L185.5 359.2L183.5 357.3L181.5 356.3L179.5 356.1L175.4 356.4L174.4 356.0L173.4 354.2L173.6 352.0L176.9 349.0L179.1 344.0L179.8 341.0L179.5 329.0L180.1 313.0L179.5 309.0L178.3 305.0L178.1 302.0L179.5 299.0L186.5 295.0L187.4 294.0L189.3 288.0ZM222.4 288.0L222.5 287.0L226.5 287.0L226.5 304.3L224.0 304.0L222.3 303.0L221.5 302.0L222.4 299.0L221.5 292.0L222.4 288.0Z" fill="#35c55e" stroke="#35c55e" stroke-width="0.3" fill-rule="evenodd"/><path d="M108.5 287.0L113.4 287.0L113.2 289.0L114.4 291.4L116.4 292.3L121.4 292.9L123.4 292.5L127.4 290.2L128.5 289.0L129.2 287.0L138.3 287.0L139.3 291.0L139.1 295.0L142.9 301.0L148.2 306.0L149.7 309.0L150.2 311.0L149.1 315.0L147.9 323.0L147.4 324.2L143.4 328.0L140.4 329.4L135.4 330.9L133.7 332.0L130.4 335.3L127.1 340.0L126.4 342.3L122.1 340.0L119.4 338.1L117.4 337.2L115.4 337.1L109.4 338.4L106.4 338.4L104.4 337.1L102.4 335.0L96.9 327.0L96.6 325.0L97.0 323.0L96.5 322.0L98.4 319.0L100.4 317.8L101.9 316.0L102.6 312.0L104.4 308.9L107.4 306.2L113.6 304.0L115.2 303.0L115.8 302.0L115.0 300.0L111.4 296.5L109.7 294.0L108.5 290.0L108.5 287.0ZM117.4 312.0L115.4 312.4L113.0 315.0L110.6 322.0L111.6 325.0L112.5 326.0L114.5 327.0L120.4 327.9L124.4 327.4L130.4 324.8L133.4 322.5L138.0 320.0L138.9 319.0L139.2 317.0L138.7 315.0L137.4 313.1L135.4 311.8L134.4 311.5L131.4 312.1L127.4 312.3L122.4 311.2L117.4 312.0ZM197.5 288.0L197.5 287.0L208.6 287.0L208.2 291.0L208.5 291.9L210.5 292.4L213.6 291.0L214.9 289.0L215.3 287.0L222.5 287.0L221.5 292.0L222.4 299.0L221.5 302.0L222.3 303.0L224.0 304.0L226.5 304.3L226.5 312.2L224.5 311.7L221.5 311.6L216.5 312.4L211.5 312.3L207.0 316.0L202.5 317.9L200.5 318.1L197.5 317.1L192.5 317.2L189.6 322.0L189.8 328.0L189.4 332.0L189.5 334.0L191.1 337.0L192.9 342.0L195.7 348.0L198.1 352.0L200.5 359.3L204.3 364.0L205.3 368.0L207.6 373.0L209.0 375.0L211.6 377.0L215.5 378.0L221.5 376.9L226.5 376.7L226.5 425.2L224.5 423.4L217.5 418.7L212.5 417.4L208.5 417.8L206.7 417.0L207.5 413.0L207.6 405.0L207.0 401.0L205.2 397.0L206.5 392.0L205.3 385.0L204.5 383.1L203.5 382.0L199.5 380.2L198.4 379.0L197.5 372.0L193.5 364.0L189.9 354.0L187.9 350.0L186.0 341.0L183.2 333.0L183.2 322.0L183.8 319.0L188.6 310.0L190.5 308.4L195.5 307.4L196.5 306.5L197.1 305.0L198.0 299.0L197.4 294.0L197.5 288.0ZM56.6 357.0L57.3 356.2L61.3 356.7L66.3 356.4L69.3 356.9L71.0 358.0L72.2 360.0L73.2 364.0L72.6 368.0L72.8 375.0L72.9 376.0L73.9 378.0L79.4 384.0L84.4 386.9L95.4 391.0L98.0 393.0L98.9 395.0L99.8 399.0L99.8 405.0L98.4 409.2L97.4 410.7L95.4 412.6L94.4 412.9L87.4 411.5L86.4 411.5L86.1 413.0L86.4 421.2L87.4 422.8L89.7 425.0L90.6 429.0L92.1 431.0L92.9 433.0L93.8 437.0L100.9 448.0L101.7 450.0L101.5 453.0L103.2 466.0L103.3 470.0L102.4 472.9L100.4 477.1L97.4 480.3L95.4 481.2L93.4 481.3L92.6 481.0L91.4 479.5L88.5 464.0L87.1 461.0L85.4 459.6L83.4 458.6L75.3 457.1L73.2 456.0L67.3 451.0L57.4 441.0L45.3 433.7L42.3 429.0L41.3 424.7L37.3 420.8L34.3 419.1L33.3 418.0L33.3 394.8L36.0 397.0L39.2 403.0L43.3 408.6L45.3 410.2L50.3 412.9L53.3 416.0L57.2 419.0L57.6 421.0L57.3 422.0L53.3 426.0L52.1 428.0L52.8 432.0L54.3 433.7L57.3 435.4L60.3 436.4L64.3 436.9L67.3 436.7L70.3 436.0L72.3 435.0L74.3 433.1L77.3 431.4L78.2 430.0L78.1 426.0L76.8 421.0L77.6 409.0L76.9 404.0L78.5 394.0L77.8 392.0L73.3 389.1L66.3 386.6L62.3 385.6L56.3 385.0L48.3 382.0L38.1 382.0L33.3 383.1L33.3 375.4L37.3 374.2L45.3 373.3L48.0 372.0L49.2 370.0L52.3 362.0L56.6 357.0Z" fill="#e6b223" stroke="#e6b223" stroke-width="0.3" fill-rule="evenodd"/><path d="M113.3 288.0L113.4 287.0L129.2 287.0L128.5 289.0L127.4 290.2L123.4 292.5L121.4 292.9L115.4 292.0L114.4 291.4L113.4 290.0L113.3 288.0ZM208.6 287.0L215.3 287.0L214.9 289.0L213.6 291.0L210.5 292.4L208.5 291.9L208.2 291.0L208.6 287.0ZM117.1 312.0L122.4 311.2L127.4 312.3L131.4 312.1L134.4 311.5L135.4 311.8L137.4 313.1L138.7 315.0L139.2 317.0L138.9 319.0L138.0 320.0L133.4 322.5L130.4 324.8L124.4 327.4L120.4 327.9L114.5 327.0L112.5 326.0L111.6 325.0L110.6 322.0L113.0 315.0L115.4 312.4L117.1 312.0ZM219.3 312.0L224.5 311.7L226.5 312.2L226.5 344.9L222.5 342.0L219.5 338.1L218.1 335.0L217.5 331.0L215.8 326.0L213.8 322.0L212.5 321.2L211.0 322.0L209.2 324.0L207.5 325.3L202.5 326.9L200.5 328.0L198.5 330.2L197.4 332.0L197.8 335.0L199.5 338.7L203.4 342.0L204.5 343.7L206.4 351.0L208.2 354.0L210.5 355.5L220.1 360.0L222.5 362.4L226.5 364.5L226.5 376.7L221.5 376.9L215.5 378.0L211.5 376.9L208.5 374.4L205.3 368.0L204.3 364.0L200.5 359.3L198.1 352.0L195.7 348.0L192.9 342.0L191.1 337.0L189.5 334.0L189.6 322.0L192.5 317.2L197.5 317.1L200.5 318.1L202.5 317.9L207.0 316.0L211.5 312.3L216.5 312.4L219.3 312.0ZM38.1 382.0L48.3 382.0L56.3 385.0L62.3 385.6L66.3 386.6L73.3 389.1L77.8 392.0L78.5 394.0L76.9 404.0L77.6 409.0L76.8 421.0L78.0 425.0L78.4 428.0L78.2 430.0L77.3 431.4L74.3 433.1L71.3 435.6L68.3 436.5L65.3 436.9L62.3 436.8L59.3 436.2L56.3 434.9L53.5 433.0L52.8 432.0L52.1 428.0L53.3 426.0L57.3 422.0L57.6 421.0L57.2 419.0L53.3 416.0L50.3 412.9L45.3 410.2L43.3 408.6L39.2 403.0L36.0 397.0L33.3 394.8L33.3 383.1L38.1 382.0ZM49.3 390.0L47.3 390.5L46.0 392.0L45.9 397.0L47.0 400.0L48.3 401.7L50.2 403.0L53.3 403.9L54.3 405.0L55.3 407.2L59.6 411.0L64.3 412.8L67.3 413.1L68.3 412.6L68.8 412.0L69.0 410.0L67.8 401.0L64.2 396.0L62.3 394.3L58.3 391.8L53.3 391.1L49.3 390.0Z" fill="#facc18" stroke="#facc18" stroke-width="0.3" fill-rule="evenodd"/><path d="M211.0 322.0L212.5 321.2L213.8 322.0L216.6 328.0L218.1 335.0L219.4 338.0L222.5 342.0L226.5 344.9L226.5 364.5L222.5 362.4L220.1 360.0L208.5 354.3L206.4 351.0L204.1 343.0L199.7 339.0L197.8 335.0L197.4 332.0L198.5 330.2L200.4 328.0L202.5 326.9L207.5 325.3L209.2 324.0L211.0 322.0ZM49.3 390.0L53.3 391.1L58.3 391.8L62.3 394.3L64.2 396.0L67.8 401.0L69.0 410.0L68.8 412.0L68.3 412.6L67.3 413.1L64.3 412.8L59.6 411.0L55.3 407.2L54.3 405.0L53.3 403.9L50.2 403.0L48.3 401.7L47.0 400.0L45.9 397.0L46.0 392.0L47.3 390.5L49.3 390.0Z" fill="#f5f20a" stroke="#f5f20a" stroke-width="0.3" fill-rule="evenodd"/><path d="M180.4 486.0L177.8 479.0L173.6 472.0L171.8 467.0L169.8 460.0L168.2 450.0L167.4 447.3L165.4 442.9L164.4 441.6L163.4 441.1L161.3 444.0L159.5 451.0L159.8 457.0L159.1 461.0L156.9 467.0L154.3 471.0L154.8 474.0L154.0 481.0L155.5 486.0" fill="none" stroke="#1e1e1e" stroke-width="0.7"/><path d="M33.3 307.7L37.3 308.3L44.3 311.3L48.3 312.1L50.3 311.7L52.3 310.4L53.6 309.0L54.3 307.0L53.7 305.0L51.4 301.0L50.3 299.8L49.3 299.4L33.3 299.3M192.5 460.9L190.5 461.7L189.5 463.0L188.7 466.0L186.7 470.0L187.5 471.6L189.5 472.0L192.5 471.3L194.5 469.5L195.5 467.7L195.9 466.0L195.5 463.4L194.5 461.8L192.5 460.9M187.7 486.0L187.4 482.0L187.6 477.0L186.5 475.3L183.5 472.7L181.3 470.0L175.0 457.0L174.0 454.0L171.4 443.0L168.2 437.0L167.1 434.0L165.7 425.0L161.8 416.0L160.4 408.0L159.4 406.2L155.4 402.0L153.4 401.1L151.4 401.8L149.3 401.0L148.4 397.0L149.0 395.0L148.6 393.0L147.4 391.4L146.4 391.1L144.4 391.5L143.6 397.0L144.7 402.0L147.2 406.0L148.2 409.0L149.5 417.0L149.2 421.0L147.3 424.0L144.4 426.1L142.6 428.0L141.4 429.8L141.2 431.0L141.7 433.0L142.4 434.2L144.1 436.0L147.0 438.0L148.8 441.0L148.4 444.0L144.8 450.0L145.4 454.2L148.4 458.0L149.3 461.0L148.9 463.0L147.1 467.0L144.0 472.0L139.1 482.0L138.3 486.0" fill="none" stroke="#1e1e1e" stroke-width="0.7"/><path d="M33.3 315.6L35.3 315.5L42.3 317.5L51.3 318.7L54.3 318.8L56.3 318.2L59.2 316.0L63.6 310.0L71.3 305.1L72.7 303.0L73.3 300.0L72.7 298.0L71.3 296.8L67.3 297.1L64.3 295.9L58.3 296.5L50.3 294.3L45.3 295.0L37.3 294.2L33.3 294.4M53.0 486.0L49.5 482.0L47.3 480.5L45.3 477.6L41.3 475.1L37.3 470.3L33.3 468.3M195.9 486.0L196.9 482.0L197.9 480.0L199.7 478.0L200.7 474.0L202.5 470.1L202.2 463.0L202.9 458.0L203.5 456.9L206.6 454.0L207.1 453.0L206.7 452.0L205.5 451.0L203.5 450.9L202.5 451.2L199.5 453.3L196.5 453.5L191.5 454.8L184.8 454.0L183.5 453.3L181.8 449.0L178.5 445.0L177.0 441.0L175.4 438.8L172.4 435.9L171.2 434.0L170.7 432.0L170.8 430.0L171.6 427.0L173.8 423.0L173.8 422.0L173.3 421.0L168.0 416.0L165.9 411.0L165.6 409.0L166.1 407.0L170.7 398.0L170.5 395.0L169.4 394.0L163.4 391.8L157.4 388.9L153.2 386.0L151.9 384.0L150.9 381.0L150.8 372.0L150.4 371.5L149.4 371.4L147.4 372.6L144.4 371.6L143.4 372.4L142.4 374.9L141.5 381.0L140.6 384.0L138.9 387.0L135.5 391.0L134.9 397.0L135.4 401.0L135.2 405.0L135.5 412.0L136.4 417.1L137.4 418.4L138.4 419.0L138.7 420.0L138.4 420.6L137.4 420.5L135.4 419.2L134.4 419.5L133.2 421.0L131.4 421.7L125.4 421.3L124.4 422.5L123.4 425.0L120.1 431.0L120.4 433.0L124.4 433.9L129.2 433.0L133.4 430.9L134.4 431.2L140.4 439.0L141.5 442.0L141.3 444.0L139.1 453.0L139.4 459.0L139.1 462.0L136.9 467.0L133.4 473.0L131.4 474.7L128.9 478.0L125.4 480.8L124.2 486.0" fill="none" stroke="#1e1e1e" stroke-width="0.7"/><path d="M54.1 287.0L51.3 288.7L47.3 289.7L33.3 289.9M66.7 287.0L66.1 288.0L64.3 288.2L62.3 288.0L60.2 287.0M33.3 327.0L37.3 327.4L46.3 326.5L61.3 327.2L63.9 326.0L67.7 322.0L70.3 320.0L72.3 316.2L77.0 311.0L81.7 303.0L81.9 302.0L81.4 299.0L82.7 295.0L82.3 287.0M61.2 486.0L62.0 482.0L61.9 476.0L61.2 474.0L60.5 473.0L56.3 470.4L50.9 464.0L47.1 461.0L41.3 458.0L33.3 453.1M210.9 486.0L211.7 482.0L212.3 474.0L211.7 470.0L211.7 465.0L212.4 461.0L215.4 455.0L216.9 451.0L217.3 448.0L216.7 445.0L214.5 442.5L212.5 441.1L210.5 441.3L207.5 443.4L200.5 445.0L197.5 444.8L194.5 443.5L193.3 442.0L190.2 435.0L188.0 429.0L187.2 425.0L186.5 424.0L183.6 421.0L180.5 419.7L174.4 415.9L172.4 414.4L171.4 413.1L171.0 412.0L171.2 411.0L173.4 406.5L177.8 402.0L178.3 401.0L183.8 396.0L184.6 394.0L183.6 392.0L181.5 390.6L169.3 388.0L160.9 384.0L158.9 382.0L158.7 381.0L157.2 379.0L157.0 376.0L158.1 373.0L162.9 366.0L163.9 362.0L163.7 360.0L162.8 358.0L159.7 354.0L158.9 352.0L157.4 351.0L154.4 351.2L153.7 352.0L150.3 362.0L148.8 364.0L147.4 365.3L142.4 367.8L140.5 370.0L139.3 373.0L138.0 381.0L136.4 383.6L134.4 385.2L131.4 385.4L130.4 385.0L129.6 384.0L126.6 374.0L124.4 371.1L122.8 370.0L119.4 368.9L115.6 369.0L112.8 370.0L111.7 371.0L111.4 372.0L110.3 382.0L114.4 384.5L119.4 386.3L124.4 390.7L127.6 398.0L128.6 403.0L128.1 406.0L124.4 412.0L122.0 415.0L118.4 417.9L115.4 421.3L113.9 425.0L112.4 431.0L112.6 432.0L115.0 435.0L118.4 437.1L126.4 438.5L130.4 438.5L132.1 439.0L133.5 440.0L134.9 442.0L135.9 445.0L134.4 453.6L130.4 460.4L128.4 465.0L127.4 466.1L122.4 468.3L119.8 471.0L118.0 481.0L118.4 486.0" fill="none" stroke="#1e1e1e" stroke-width="0.7"/><path d="M33.3 358.9L36.8 356.0L37.7 354.0L38.3 350.0L38.2 344.0L38.5 342.0L43.3 338.4L46.3 337.2L49.3 337.3L53.3 336.8L70.3 337.4L72.3 336.9L75.3 334.3L78.3 329.0L82.3 324.0L83.4 319.0L85.4 314.1L87.4 310.6L90.4 306.8L91.8 299.0L91.2 287.0M226.5 446.9L224.5 445.2L219.5 437.9L213.5 432.3L209.5 430.6L200.5 430.8L197.5 429.6L195.7 428.0L193.7 425.0L192.9 421.0L191.5 418.8L188.7 417.0L183.5 416.0L179.5 414.2L177.8 413.0L178.2 411.0L183.5 406.0L187.5 403.8L191.5 402.8L192.5 402.2L193.7 400.0L194.2 396.0L193.4 393.0L191.5 390.0L185.5 386.2L182.5 384.7L180.5 384.3L175.4 384.8L172.4 384.5L170.4 383.7L168.3 382.0L169.2 376.0L168.2 370.0L169.4 364.0L167.3 355.0L167.2 351.0L168.3 348.0L174.6 340.0L175.3 338.0L176.0 332.0L176.1 319.0L174.4 313.2L173.4 311.2L172.4 312.0L170.9 315.0L167.7 317.0L164.4 320.6L160.9 328.0L159.4 332.2L148.0 343.0L147.3 344.0L146.8 348.0L145.3 352.0L145.9 358.0L145.5 360.0L143.8 362.0L140.0 364.0L137.4 366.0L134.9 369.0L133.4 372.3L131.3 369.0L129.9 368.0L123.4 366.0L116.4 365.0L112.4 363.3L111.4 362.0L110.4 358.2L109.4 356.2L108.4 354.8L107.4 354.5L106.4 354.3L98.4 356.1L96.4 355.9L95.4 356.3L93.4 358.2L91.8 361.0L90.8 372.0L91.4 374.5L92.4 375.4L99.4 379.3L104.4 384.4L112.6 389.0L115.4 390.9L116.3 392.0L117.0 394.0L117.0 397.0L115.0 401.0L116.1 408.0L115.9 410.0L115.0 412.0L111.4 417.1L108.8 422.0L105.8 431.0L107.0 434.0L109.2 437.0L111.4 438.7L116.9 442.0L119.0 444.0L120.5 447.0L120.5 449.0L119.1 454.0L115.4 461.4L113.0 471.0L112.3 478.0L112.5 482.0L112.2 486.0M226.5 476.6L224.2 475.0L222.2 472.0L221.7 466.0L221.9 461.0L222.3 460.0L226.5 455.1M77.7 486.0L77.4 482.0L75.9 476.0L71.3 470.0L68.8 468.0L59.7 463.0L54.3 459.0L46.3 454.0L41.3 448.8L38.3 446.3L36.3 445.3L33.3 444.6" fill="none" stroke="#1e1e1e" stroke-width="0.7"/><path d="M149.3 287.0L149.9 288.0L153.4 291.0L157.2 297.0L158.7 303.0L159.0 311.0L150.2 331.0L148.4 333.3L141.9 339.0L140.4 341.0L138.3 353.0L137.4 355.0L130.4 359.8L127.4 361.1L124.4 361.5L120.6 361.0L119.0 360.0L118.6 359.0L118.9 357.0L120.3 353.0L120.3 351.0L119.4 348.8L117.9 347.0L116.4 346.0L113.4 345.2L106.4 345.9L104.4 345.6L102.4 344.9L98.4 341.7L97.4 341.5L95.4 342.2L92.1 345.0L90.4 345.9L84.4 347.1L82.1 348.0L80.9 349.0L80.6 350.0L80.5 352.0L81.4 356.0L81.6 360.0L81.1 364.0L81.5 368.0L81.3 372.0L81.9 375.0L83.6 379.0L85.3 381.0L86.9 382.0L95.2 384.0L101.6 388.0L105.7 392.0L107.0 395.0L106.9 397.0L105.8 401.0L106.7 405.0L105.6 409.0L105.5 413.0L100.2 424.0L99.7 430.0L99.9 432.0L100.7 434.0L108.9 446.0L109.6 448.0L109.8 450.0L108.8 460.0L109.0 462.0L107.3 477.0L105.2 483.0L103.7 486.0M33.3 369.2L38.3 367.1L41.0 365.0L45.3 357.9L47.5 352.0L49.3 350.2L52.3 348.6L56.3 347.2L65.3 346.0L74.3 347.6L79.3 347.0L80.3 346.1L81.0 343.0L86.1 332.0L88.3 329.0L89.5 322.0L94.1 314.0L96.3 312.0L97.4 310.3L99.7 304.0L100.9 302.0L102.3 295.0L101.1 291.0L101.7 287.0M226.5 436.1L222.5 432.3L220.4 429.0L215.1 426.0L210.5 424.6L204.5 425.1L202.5 424.8L200.5 423.8L199.0 422.0L198.1 419.0L198.0 414.0L200.2 397.0L199.8 394.0L198.7 390.0L197.2 388.0L190.5 383.6L188.1 381.0L186.8 377.0L188.6 372.0L188.5 367.0L187.6 363.0L185.5 359.2L183.5 357.3L181.5 356.3L179.5 356.1L175.4 356.4L174.4 356.0L173.4 354.2L173.6 352.0L176.9 349.0L179.1 344.0L179.8 341.0L179.5 329.0L180.1 313.0L179.5 309.0L178.3 305.0L178.1 302.0L179.5 299.0L186.5 295.0L187.4 294.0L189.5 287.0M83.2 486.0L83.1 475.0L82.3 471.0L81.3 468.9L75.3 464.8L70.3 462.1L65.3 460.6L61.3 457.2L55.3 454.0L51.2 450.0L50.7 448.0L50.5 445.0L48.6 442.0L45.8 440.0L41.3 437.9L37.3 436.7L33.3 434.3" fill="none" stroke="#1e1e1e" stroke-width="0.7"/><path d="M138.3 287.0L139.3 291.0L139.1 295.0L142.9 301.0L148.2 306.0L150.0 310.0L150.2 311.0L149.1 315.0L147.9 323.0L146.4 325.4L143.4 328.0L140.4 329.4L135.4 330.9L133.7 332.0L130.4 335.3L127.1 340.0L126.4 342.3L122.1 340.0L119.4 338.1L117.4 337.2L115.4 337.1L109.4 338.4L106.4 338.4L104.4 337.1L102.4 335.0L96.9 327.0L96.6 325.0L97.0 323.0L96.5 322.0L98.4 319.0L100.4 317.8L101.9 316.0L102.6 312.0L104.4 308.9L107.4 306.2L113.6 304.0L115.2 303.0L115.8 302.0L115.0 300.0L111.4 296.5L109.7 294.0L108.5 290.0L108.5 287.0M222.5 287.0L221.5 292.0L222.4 299.0L221.5 302.0L222.3 303.0L224.0 304.0L226.5 304.3M33.3 375.4L37.3 374.2L45.3 373.3L48.0 372.0L49.2 370.0L52.3 362.0L57.3 356.2L61.3 356.7L66.3 356.4L69.3 356.9L71.8 359.0L72.8 362.0L73.2 364.0L72.6 368.0L72.9 376.0L74.7 379.0L78.3 383.1L82.4 385.9L95.4 391.0L98.0 393.0L98.9 395.0L99.8 399.0L99.8 405.0L98.9 408.0L97.4 410.7L95.4 412.6L94.4 412.9L91.4 412.1L86.4 411.5L86.1 413.0L86.3 421.0L87.4 422.8L89.7 425.0L90.6 429.0L92.1 431.0L92.9 433.0L93.8 437.0L101.5 449.0L101.6 454.0L103.3 468.0L102.7 472.0L101.0 476.0L99.4 478.4L96.4 480.9L93.4 481.3L92.4 480.9L91.4 479.5L90.9 478.0L89.2 467.0L88.2 463.0L87.1 461.0L85.4 459.6L83.4 458.6L75.3 457.1L73.2 456.0L67.3 451.0L57.4 441.0L45.3 433.7L42.3 429.0L41.3 424.7L37.3 420.8L34.3 419.1L33.3 418.0M226.5 425.2L224.5 423.4L217.5 418.7L212.5 417.4L208.5 417.8L206.7 417.0L207.5 413.0L207.6 405.0L207.0 401.0L205.2 397.0L206.5 392.0L205.3 385.0L204.5 383.1L203.5 382.0L199.5 380.2L198.4 379.0L197.5 372.0L193.5 364.0L189.9 354.0L187.9 350.0L186.0 341.0L183.2 333.0L183.2 322.0L183.8 319.0L188.6 310.0L190.5 308.4L195.5 307.4L196.5 306.5L197.1 305.0L198.0 299.0L197.3 293.0L197.5 287.0" fill="none" stroke="#1e1e1e" stroke-width="0.7"/><path d="M129.2 287.0L128.5 289.0L127.4 290.2L123.4 292.5L121.4 292.9L116.4 292.3L114.4 291.4L113.2 289.0L113.4 287.0M215.3 287.0L214.9 289.0L213.6 291.0L210.5 292.4L208.5 291.9L208.2 291.0L208.6 287.0M117.1 312.0L122.4 311.2L127.4 312.3L131.4 312.1L134.4 311.5L135.4 311.8L137.4 313.1L138.7 315.0L139.2 317.0L138.9 319.0L138.0 320.0L133.4 322.5L130.4 324.8L124.4 327.4L120.4 327.9L114.5 327.0L112.5 326.0L111.6 325.0L110.6 322.0L113.0 315.0L115.4 312.4L117.1 312.0M226.5 376.7L221.5 376.9L215.5 378.0L211.6 377.0L209.0 375.0L207.6 373.0L205.3 368.0L204.3 364.0L200.5 359.3L198.1 352.0L195.7 348.0L192.9 342.0L191.1 337.0L189.5 334.0L189.4 332.0L189.8 328.0L189.6 322.0L192.5 317.2L197.5 317.1L200.5 318.1L202.5 317.9L207.0 316.0L211.5 312.3L216.5 312.4L221.5 311.6L224.5 311.7L226.5 312.2M33.3 383.1L38.1 382.0L48.3 382.0L56.2 385.0L64.3 386.0L73.3 389.1L77.3 391.6L78.3 392.9L78.5 394.0L76.9 405.0L77.6 409.0L76.8 421.0L78.1 426.0L78.2 430.0L77.3 431.4L74.3 433.1L71.3 435.6L68.3 436.5L65.3 436.9L62.3 436.8L59.3 436.2L56.3 434.9L53.5 433.0L52.8 432.0L52.1 428.0L53.3 426.0L57.3 422.0L57.6 421.0L57.2 419.0L53.3 416.0L50.3 412.9L45.3 410.2L43.3 408.6L39.2 403.0L36.0 397.0L33.3 394.8" fill="none" stroke="#1e1e1e" stroke-width="0.7"/><path d="M226.5 364.5L222.5 362.4L220.1 360.0L210.5 355.5L208.2 354.0L206.4 351.0L204.5 343.7L203.4 342.0L199.5 338.7L197.8 335.0L197.4 332.0L198.5 330.2L200.5 328.0L202.5 326.9L207.5 325.3L209.2 324.0L211.0 322.0L212.5 321.2L213.8 322.0L215.8 326.0L217.5 331.0L218.1 335.0L219.5 338.1L222.5 342.0L226.5 344.9M49.3 390.0L53.3 391.1L58.3 391.8L62.3 394.3L64.2 396.0L67.8 401.0L69.0 410.0L68.8 412.0L68.3 412.6L67.3 413.1L64.3 412.8L59.6 411.0L55.3 407.2L54.3 405.0L53.3 403.9L50.2 403.0L48.3 401.7L47.0 400.0L45.9 397.0L46.0 392.0L47.3 390.5L49.3 390.0" fill="none" stroke="#1e1e1e" stroke-width="0.7"/><path d="M81.60 486.0V287.0" stroke="#000" stroke-width="1.35" stroke-dasharray="3.4 3.0"/><path d="M33.3 436.25H226.5" stroke="#000" stroke-width="1.35" stroke-dasharray="3.4 3.0"/><path d="M129.90 486.0V287.0" stroke="#000" stroke-width="1.35" stroke-dasharray="3.4 3.0"/><path d="M33.3 386.50H226.5" stroke="#000" stroke-width="1.35" stroke-dasharray="3.4 3.0"/><path d="M178.20 486.0V287.0" stroke="#000" stroke-width="1.35" stroke-dasharray="3.4 3.0"/><path d="M33.3 336.75H226.5" stroke="#000" stroke-width="1.35" stroke-dasharray="3.4 3.0"/></g><circle cx="81.60" cy="436.25" r="3.9" fill="none" stroke="#f50a0a" stroke-width="2.2"/><circle cx="81.60" cy="386.50" r="3.9" fill="none" stroke="#f50a0a" stroke-width="2.2"/><circle cx="81.60" cy="336.75" r="3.9" fill="none" stroke="#f50a0a" stroke-width="2.2"/><circle cx="129.90" cy="436.25" r="3.9" fill="none" stroke="#f50a0a" stroke-width="2.2"/><circle cx="129.90" cy="386.50" r="3.9" fill="none" stroke="#f50a0a" stroke-width="2.2"/><circle cx="129.90" cy="336.75" r="3.9" fill="none" stroke="#f50a0a" stroke-width="2.2"/><circle cx="178.20" cy="436.25" r="3.9" fill="none" stroke="#f50a0a" stroke-width="2.2"/><circle cx="178.20" cy="386.50" r="3.9" fill="none" stroke="#f50a0a" stroke-width="2.2"/><circle cx="178.20" cy="336.75" r="3.9" fill="none" stroke="#f50a0a" stroke-width="2.2"/><text x="37.9" y="301.0" font-size="13.4" fill="#111" stroke="#111" stroke-width="0.25">(c)</text><defs><clipPath id="clipD"><rect x="337.4" y="286.6" width="198.0" height="199.09999999999997"/></clipPath></defs><g clip-path="url(#clipD)" fill="none" stroke-width="1.5" stroke-linejoin="round"><path d="M355.00 286.70L354.83 321.70L354.39 358.70L353.62 385.20L352.99 400.20L352.59 406.70L351.89 414.20L351.32 418.20L349.16 428.20L341.83 464.20L341.25 467.70L341.01 470.70L341.11 473.70L341.63 477.20L342.08 479.20L342.99 481.20L344.10 482.70L345.63 484.20L346.58 484.70L350.00 485.90" stroke="#0a6fe0"/><path d="M356.20 286.70L355.69 345.70L355.00 398.20L355.09 402.70L355.88 411.70L356.00 415.70L355.65 422.20L354.06 438.20L353.90 442.70L354.00 447.70L354.67 457.70L355.06 460.20L355.64 462.70L358.14 471.20L359.87 477.70L360.67 480.20L361.96 483.20L364.00 485.90" stroke="#f85a10"/><path d="M358.50 286.70L362.71 301.20L362.99 302.70L363.30 344.70L363.69 367.20L364.79 399.70L365.68 413.20L366.69 423.70L368.08 434.20L369.98 446.70L374.69 474.70L375.15 479.20L375.50 485.90" stroke="#fdb614"/><path d="M356.80 286.70L355.10 415.20L354.67 440.20L354.60 450.20L354.71 451.70L355.35 454.70L356.44 457.70L359.75 464.70L361.23 467.20L364.26 471.20L369.84 477.70L373.64 481.70L378.00 485.90" stroke="#8a2c9c"/><path d="M356.50 286.70L356.23 340.70L355.79 385.70L355.24 417.20L353.95 445.70L353.92 451.70L354.21 456.70L355.13 463.70L356.77 471.70L357.72 474.20L359.18 476.70L361.98 480.20L363.08 481.20L364.48 482.20L366.18 483.20L368.23 484.20L369.62 484.70L374.00 485.90" stroke="#62b22a"/><path d="M359.40 286.70L360.89 348.20L363.06 414.20L363.85 429.20L364.39 435.70L365.10 442.20L365.97 447.70L367.40 453.70L369.70 461.20L372.09 467.70L374.76 473.20L378.03 478.70L380.26 481.70L384.00 485.90" stroke="#22bdf5"/><path d="M357.70 286.70L357.56 324.20L357.24 356.20L356.55 378.70L355.42 401.20L353.93 414.70L352.71 427.20L351.73 434.70L349.81 446.20L345.28 468.20L344.32 475.20L344.01 479.20L344.03 480.20L344.52 481.20L345.51 482.20L346.87 483.20L348.48 484.20L349.71 484.70L354.00 485.90" stroke="#c8143c"/><path d="M356.00 286.70L355.96 352.20L355.69 366.20L354.83 397.20L354.61 411.70L354.73 431.20L354.99 442.70L355.14 444.70L355.77 447.70L356.97 451.20L359.70 457.20L360.87 459.20L362.36 461.20L364.09 463.20L369.50 468.70L371.35 470.20L375.63 473.20L377.28 474.70L377.95 475.70L378.65 477.20L379.15 478.70L379.30 479.70L379.24 480.20L378.87 480.70L378.22 481.20L375.10 482.70L372.99 483.20L362.90 484.70L358.00 485.90" stroke="#0a6fe0"/><path d="M503.20 286.70L503.03 320.70L502.48 366.20L502.09 386.70L501.49 405.20L500.77 417.70L499.64 429.70L498.45 438.70L497.69 442.70L496.87 446.20L495.71 450.20L494.50 453.70L493.46 456.20L492.33 458.20L490.52 460.70L488.35 463.20L485.36 466.20L482.07 469.20L478.54 472.20L475.86 474.20L472.03 476.70L468.59 478.70L463.79 481.20L459.55 483.20L452.00 485.90" stroke="#0a6fe0"/><path d="M504.70 286.70L504.57 305.70L504.17 326.70L503.28 356.70L502.56 374.70L501.36 392.20L499.17 417.70L497.79 429.70L496.32 438.70L495.28 443.20L494.03 447.70L492.57 452.20L490.91 456.70L489.50 460.20L488.09 463.20L486.46 466.20L484.56 469.20L482.36 472.20L480.27 474.70L478.82 476.20L477.08 477.70L475.08 479.20L472.07 481.20L464.00 485.90" stroke="#f85a10"/><path d="M505.80 286.70L505.60 323.70L505.00 365.20L504.57 379.20L503.81 393.70L502.76 407.70L502.19 412.70L501.38 418.20L500.12 425.20L498.53 432.70L497.19 438.20L495.96 442.20L494.37 446.20L493.08 448.70L490.94 451.70L488.29 454.70L486.69 456.20L484.72 457.70L477.08 462.70L474.36 464.70L471.72 467.20L467.25 472.20L464.40 474.70L462.17 476.20L459.41 477.70L456.22 479.20L451.51 481.20L445.94 483.20L437.00 485.90" stroke="#fdb614"/><path d="M503.50 286.70L503.24 341.70L502.95 368.70L502.64 383.70L502.07 400.20L501.27 416.20L499.98 435.20L499.32 441.20L497.83 449.70L495.45 459.70L492.87 468.70L491.93 471.20L490.74 473.70L489.88 475.20L488.74 476.70L486.14 479.20L482.06 482.20L476.00 485.90" stroke="#8a2c9c"/><path d="M504.00 286.70L503.74 317.20L503.19 354.20L502.60 385.20L501.99 405.20L501.21 417.70L498.45 448.70L497.82 454.70L497.08 459.70L495.95 465.20L495.36 466.70L493.71 469.20L490.44 472.70L486.62 476.20L482.42 479.20L477.31 482.20L470.00 485.90" stroke="#22bdf5"/><path d="M502.00 286.70L501.88 322.70L501.49 365.70L500.66 394.20L500.51 403.20L500.56 411.20L500.99 433.20L501.00 464.70L500.90 466.70L500.26 469.70L499.13 472.70L497.88 475.20L497.49 475.70L496.36 476.70L492.98 478.70L485.57 482.20L482.02 483.70L476.00 485.90" stroke="#c8143c"/><path d="M505.00 286.70L505.37 381.70L505.59 399.70L505.63 400.20L505.91 400.70L507.41 402.20L507.73 402.70L507.89 409.70L508.00 429.70L507.93 444.20L507.60 455.20L506.98 465.20L506.60 466.70L505.88 468.20L504.58 470.20L503.39 471.70L501.55 473.20L497.78 475.70L495.76 477.20L490.46 481.70L486.00 485.90" stroke="#fdb614"/><path d="M505.50 286.70L505.60 305.20L505.89 325.20L507.12 375.20L507.74 389.20L508.64 405.70L510.57 425.70L511.00 434.20L510.77 442.70L509.94 452.70L508.90 461.70L507.14 469.20L507.00 470.70L507.04 472.20L507.63 475.70L508.09 477.20L508.50 477.70L509.98 478.70L514.00 480.70L515.65 481.70L517.27 483.20L517.95 484.20L517.82 484.70L516.07 485.20L512.00 485.90" stroke="#8a2c9c"/><path d="M506.80 286.70L508.36 329.20L510.90 383.20L512.28 404.70L513.07 413.70L513.95 421.70L515.41 431.70L516.14 435.70L516.77 438.20L518.27 442.70L521.64 451.20L522.90 454.70L525.39 462.70L529.06 475.20L530.64 479.70L530.99 481.70L530.95 482.20L530.48 482.70L529.58 483.20L526.92 484.20L525.27 484.70L522.69 485.20L518.00 485.90" stroke="#62b22a"/></g><text x="342.4" y="301.0" font-size="13.4" fill="#111" stroke="#111" stroke-width="0.25">(d)</text><path d="M376.2 322.9H368.4" stroke="#666" stroke-width="0.8"/><path d="M364.2 322.9L370 320.5L368.8 322.9L370 325.3Z" fill="#111"/><text x="379.4" y="327.9" font-size="12" fill="#111" stroke="#111" stroke-width="0.25">WRF-CFD-v</text><path d="M487.8 343.8H496.6" stroke="#666" stroke-width="0.8"/><path d="M500.8 343.8L495 341.4L496.2 343.8L495 346.2Z" fill="#111"/><text x="421.6" y="348.1" font-size="12" fill="#111" stroke="#111" stroke-width="0.25">WRF-CFD-u</text><rect x="33.2" y="12.5" width="193.30" height="199.00" fill="none" stroke="#8c8c8c" stroke-width="1"/><path d="M33.20 211.5v-2.0M33.20 12.5v2.0" stroke="#555" stroke-width="0.8"/><text x="33.20" y="229.10" font-size="12.5" text-anchor="middle" fill="#1a1a1a" stroke="#1a1a1a" stroke-width="0.25">0</text><path d="M81.53 211.5v-2.0M81.53 12.5v2.0" stroke="#555" stroke-width="0.8"/><text x="81.53" y="229.10" font-size="12.5" text-anchor="middle" fill="#1a1a1a" stroke="#1a1a1a" stroke-width="0.25">1</text><path d="M129.85 211.5v-2.0M129.85 12.5v2.0" stroke="#555" stroke-width="0.8"/><text x="129.85" y="229.10" font-size="12.5" text-anchor="middle" fill="#1a1a1a" stroke="#1a1a1a" stroke-width="0.25">2</text><path d="M178.18 211.5v-2.0M178.18 12.5v2.0" stroke="#555" stroke-width="0.8"/><text x="178.18" y="229.10" font-size="12.5" text-anchor="middle" fill="#1a1a1a" stroke="#1a1a1a" stroke-width="0.25">3</text><path d="M226.50 211.5v-2.0M226.50 12.5v2.0" stroke="#555" stroke-width="0.8"/><text x="226.50" y="229.10" font-size="12.5" text-anchor="middle" fill="#1a1a1a" stroke="#1a1a1a" stroke-width="0.25">4</text><path d="M33.2 211.50h2.0M226.5 211.50h-2.0" stroke="#555" stroke-width="0.8"/><text x="29.00" y="216.40" font-size="12.5" text-anchor="end" fill="#1a1a1a" stroke="#1a1a1a" stroke-width="0.25">0</text><path d="M33.2 161.75h2.0M226.5 161.75h-2.0" stroke="#555" stroke-width="0.8"/><text x="29.00" y="166.65" font-size="12.5" text-anchor="end" fill="#1a1a1a" stroke="#1a1a1a" stroke-width="0.25">1</text><path d="M33.2 112.00h2.0M226.5 112.00h-2.0" stroke="#555" stroke-width="0.8"/><text x="29.00" y="116.90" font-size="12.5" text-anchor="end" fill="#1a1a1a" stroke="#1a1a1a" stroke-width="0.25">2</text><path d="M33.2 62.25h2.0M226.5 62.25h-2.0" stroke="#555" stroke-width="0.8"/><text x="29.00" y="67.15" font-size="12.5" text-anchor="end" fill="#1a1a1a" stroke="#1a1a1a" stroke-width="0.25">3</text><path d="M33.2 12.50h2.0M226.5 12.50h-2.0" stroke="#555" stroke-width="0.8"/><text x="29.00" y="17.40" font-size="12.5" text-anchor="end" fill="#1a1a1a" stroke="#1a1a1a" stroke-width="0.25">4</text><rect x="33.3" y="287.0" width="193.20" height="199.00" fill="none" stroke="#8c8c8c" stroke-width="1"/><path d="M33.30 486.0v-2.0M33.30 287.0v2.0" stroke="#555" stroke-width="0.8"/><text x="33.30" y="503.60" font-size="12.5" text-anchor="middle" fill="#1a1a1a" stroke="#1a1a1a" stroke-width="0.25">0</text><path d="M81.60 486.0v-2.0M81.60 287.0v2.0" stroke="#555" stroke-width="0.8"/><text x="81.60" y="503.60" font-size="12.5" text-anchor="middle" fill="#1a1a1a" stroke="#1a1a1a" stroke-width="0.25">1</text><path d="M129.90 486.0v-2.0M129.90 287.0v2.0" stroke="#555" stroke-width="0.8"/><text x="129.90" y="503.60" font-size="12.5" text-anchor="middle" fill="#1a1a1a" stroke="#1a1a1a" stroke-width="0.25">2</text><path d="M178.20 486.0v-2.0M178.20 287.0v2.0" stroke="#555" stroke-width="0.8"/><text x="178.20" y="503.60" font-size="12.5" text-anchor="middle" fill="#1a1a1a" stroke="#1a1a1a" stroke-width="0.25">3</text><path d="M226.50 486.0v-2.0M226.50 287.0v2.0" stroke="#555" stroke-width="0.8"/><text x="226.50" y="503.60" font-size="12.5" text-anchor="middle" fill="#1a1a1a" stroke="#1a1a1a" stroke-width="0.25">4</text><path d="M33.3 486.00h2.0M226.5 486.00h-2.0" stroke="#555" stroke-width="0.8"/><text x="29.10" y="490.90" font-size="12.5" text-anchor="end" fill="#1a1a1a" stroke="#1a1a1a" stroke-width="0.25">0</text><path d="M33.3 436.25h2.0M226.5 436.25h-2.0" stroke="#555" stroke-width="0.8"/><text x="29.10" y="441.15" font-size="12.5" text-anchor="end" fill="#1a1a1a" stroke="#1a1a1a" stroke-width="0.25">1</text><path d="M33.3 386.50h2.0M226.5 386.50h-2.0" stroke="#555" stroke-width="0.8"/><text x="29.10" y="391.40" font-size="12.5" text-anchor="end" fill="#1a1a1a" stroke="#1a1a1a" stroke-width="0.25">2</text><path d="M33.3 336.75h2.0M226.5 336.75h-2.0" stroke="#555" stroke-width="0.8"/><text x="29.10" y="341.65" font-size="12.5" text-anchor="end" fill="#1a1a1a" stroke="#1a1a1a" stroke-width="0.25">3</text><path d="M33.3 287.00h2.0M226.5 287.00h-2.0" stroke="#555" stroke-width="0.8"/><text x="29.10" y="291.90" font-size="12.5" text-anchor="end" fill="#1a1a1a" stroke="#1a1a1a" stroke-width="0.25">4</text><rect x="337.4" y="12.5" width="198.00" height="198.90" fill="none" stroke="#8c8c8c" stroke-width="1"/><path d="M337.40 211.4v-2.0M337.40 12.5v2.0" stroke="#555" stroke-width="0.8"/><text x="337.40" y="229.00" font-size="12.5" text-anchor="middle" fill="#1a1a1a" stroke="#1a1a1a" stroke-width="0.25">-10</text><path d="M370.40 211.4v-2.0M370.40 12.5v2.0" stroke="#555" stroke-width="0.8"/><text x="370.40" y="229.00" font-size="12.5" text-anchor="middle" fill="#1a1a1a" stroke="#1a1a1a" stroke-width="0.25">-5</text><path d="M403.40 211.4v-2.0M403.40 12.5v2.0" stroke="#555" stroke-width="0.8"/><text x="403.40" y="229.00" font-size="12.5" text-anchor="middle" fill="#1a1a1a" stroke="#1a1a1a" stroke-width="0.25">0</text><path d="M436.40 211.4v-2.0M436.40 12.5v2.0" stroke="#555" stroke-width="0.8"/><text x="436.40" y="229.00" font-size="12.5" text-anchor="middle" fill="#1a1a1a" stroke="#1a1a1a" stroke-width="0.25">5</text><path d="M469.40 211.4v-2.0M469.40 12.5v2.0" stroke="#555" stroke-width="0.8"/><text x="469.40" y="229.00" font-size="12.5" text-anchor="middle" fill="#1a1a1a" stroke="#1a1a1a" stroke-width="0.25">10</text><path d="M502.40 211.4v-2.0M502.40 12.5v2.0" stroke="#555" stroke-width="0.8"/><text x="502.40" y="229.00" font-size="12.5" text-anchor="middle" fill="#1a1a1a" stroke="#1a1a1a" stroke-width="0.25">15</text><path d="M535.40 211.4v-2.0M535.40 12.5v2.0" stroke="#555" stroke-width="0.8"/><text x="535.40" y="229.00" font-size="12.5" text-anchor="middle" fill="#1a1a1a" stroke="#1a1a1a" stroke-width="0.25">20</text><path d="M337.4 211.40h2.0M535.4 211.40h-2.0" stroke="#555" stroke-width="0.8"/><text x="333.20" y="216.30" font-size="12.5" text-anchor="end" fill="#1a1a1a" stroke="#1a1a1a" stroke-width="0.25">0</text><path d="M337.4 178.25h2.0M535.4 178.25h-2.0" stroke="#555" stroke-width="0.8"/><text x="333.20" y="183.15" font-size="12.5" text-anchor="end" fill="#1a1a1a" stroke="#1a1a1a" stroke-width="0.25">200</text><path d="M337.4 145.10h2.0M535.4 145.10h-2.0" stroke="#555" stroke-width="0.8"/><text x="333.20" y="150.00" font-size="12.5" text-anchor="end" fill="#1a1a1a" stroke="#1a1a1a" stroke-width="0.25">400</text><path d="M337.4 111.95h2.0M535.4 111.95h-2.0" stroke="#555" stroke-width="0.8"/><text x="333.20" y="116.85" font-size="12.5" text-anchor="end" fill="#1a1a1a" stroke="#1a1a1a" stroke-width="0.25">600</text><path d="M337.4 78.80h2.0M535.4 78.80h-2.0" stroke="#555" stroke-width="0.8"/><text x="333.20" y="83.70" font-size="12.5" text-anchor="end" fill="#1a1a1a" stroke="#1a1a1a" stroke-width="0.25">800</text><path d="M337.4 45.65h2.0M535.4 45.65h-2.0" stroke="#555" stroke-width="0.8"/><text x="333.20" y="50.55" font-size="12.5" text-anchor="end" fill="#1a1a1a" stroke="#1a1a1a" stroke-width="0.25">1000</text><path d="M337.4 12.50h2.0M535.4 12.50h-2.0" stroke="#555" stroke-width="0.8"/><text x="333.20" y="17.40" font-size="12.5" text-anchor="end" fill="#1a1a1a" stroke="#1a1a1a" stroke-width="0.25">1200</text><rect x="337.4" y="286.6" width="198.00" height="199.10" fill="none" stroke="#8c8c8c" stroke-width="1"/><path d="M337.40 485.7v-2.0M337.40 286.6v2.0" stroke="#555" stroke-width="0.8"/><text x="337.40" y="503.30" font-size="12.5" text-anchor="middle" fill="#1a1a1a" stroke="#1a1a1a" stroke-width="0.25">-10</text><path d="M370.40 485.7v-2.0M370.40 286.6v2.0" stroke="#555" stroke-width="0.8"/><text x="370.40" y="503.30" font-size="12.5" text-anchor="middle" fill="#1a1a1a" stroke="#1a1a1a" stroke-width="0.25">-5</text><path d="M403.40 485.7v-2.0M403.40 286.6v2.0" stroke="#555" stroke-width="0.8"/><text x="403.40" y="503.30" font-size="12.5" text-anchor="middle" fill="#1a1a1a" stroke="#1a1a1a" stroke-width="0.25">0</text><path d="M436.40 485.7v-2.0M436.40 286.6v2.0" stroke="#555" stroke-width="0.8"/><text x="436.40" y="503.30" font-size="12.5" text-anchor="middle" fill="#1a1a1a" stroke="#1a1a1a" stroke-width="0.25">5</text><path d="M469.40 485.7v-2.0M469.40 286.6v2.0" stroke="#555" stroke-width="0.8"/><text x="469.40" y="503.30" font-size="12.5" text-anchor="middle" fill="#1a1a1a" stroke="#1a1a1a" stroke-width="0.25">10</text><path d="M502.40 485.7v-2.0M502.40 286.6v2.0" stroke="#555" stroke-width="0.8"/><text x="502.40" y="503.30" font-size="12.5" text-anchor="middle" fill="#1a1a1a" stroke="#1a1a1a" stroke-width="0.25">15</text><path d="M535.40 485.7v-2.0M535.40 286.6v2.0" stroke="#555" stroke-width="0.8"/><text x="535.40" y="503.30" font-size="12.5" text-anchor="middle" fill="#1a1a1a" stroke="#1a1a1a" stroke-width="0.25">20</text><path d="M337.4 485.70h2.0M535.4 485.70h-2.0" stroke="#555" stroke-width="0.8"/><text x="333.20" y="490.60" font-size="12.5" text-anchor="end" fill="#1a1a1a" stroke="#1a1a1a" stroke-width="0.25">0</text><path d="M337.4 452.52h2.0M535.4 452.52h-2.0" stroke="#555" stroke-width="0.8"/><text x="333.20" y="457.42" font-size="12.5" text-anchor="end" fill="#1a1a1a" stroke="#1a1a1a" stroke-width="0.25">200</text><path d="M337.4 419.33h2.0M535.4 419.33h-2.0" stroke="#555" stroke-width="0.8"/><text x="333.20" y="424.23" font-size="12.5" text-anchor="end" fill="#1a1a1a" stroke="#1a1a1a" stroke-width="0.25">400</text><path d="M337.4 386.15h2.0M535.4 386.15h-2.0" stroke="#555" stroke-width="0.8"/><text x="333.20" y="391.05" font-size="12.5" text-anchor="end" fill="#1a1a1a" stroke="#1a1a1a" stroke-width="0.25">600</text><path d="M337.4 352.97h2.0M535.4 352.97h-2.0" stroke="#555" stroke-width="0.8"/><text x="333.20" y="357.87" font-size="12.5" text-anchor="end" fill="#1a1a1a" stroke="#1a1a1a" stroke-width="0.25">800</text><path d="M337.4 319.78h2.0M535.4 319.78h-2.0" stroke="#555" stroke-width="0.8"/><text x="333.20" y="324.68" font-size="12.5" text-anchor="end" fill="#1a1a1a" stroke="#1a1a1a" stroke-width="0.25">1000</text><path d="M337.4 286.60h2.0M535.4 286.60h-2.0" stroke="#555" stroke-width="0.8"/><text x="333.20" y="291.50" font-size="12.5" text-anchor="end" fill="#1a1a1a" stroke="#1a1a1a" stroke-width="0.25">1200</text><defs><linearGradient id="g12" x1="0" y1="0" x2="0" y2="1"><stop offset="0.0000" stop-color="#f5f20a"/><stop offset="0.0312" stop-color="#f7e70e"/><stop offset="0.0625" stop-color="#f8dd12"/><stop offset="0.0938" stop-color="#fad215"/><stop offset="0.1250" stop-color="#fac81a"/><stop offset="0.1562" stop-color="#f9be1e"/><stop offset="0.1875" stop-color="#f8b422"/><stop offset="0.2188" stop-color="#e9b224"/><stop offset="0.2500" stop-color="#c8b627"/><stop offset="0.2812" stop-color="#99be33"/><stop offset="0.3125" stop-color="#5fc34b"/><stop offset="0.3438" stop-color="#25c666"/><stop offset="0.3750" stop-color="#11c774"/><stop offset="0.4062" stop-color="#00c683"/><stop offset="0.4375" stop-color="#00c290"/><stop offset="0.4688" stop-color="#00bd9e"/><stop offset="0.5000" stop-color="#00b9ac"/><stop offset="0.5312" stop-color="#02b3bc"/><stop offset="0.5625" stop-color="#03accb"/><stop offset="0.5938" stop-color="#05a6db"/><stop offset="0.6250" stop-color="#089ee2"/><stop offset="0.6562" stop-color="#0b94e8"/><stop offset="0.6875" stop-color="#0e8bee"/><stop offset="0.7188" stop-color="#1680f1"/><stop offset="0.7500" stop-color="#2074f2"/><stop offset="0.7812" stop-color="#2b69f4"/><stop offset="0.8125" stop-color="#335ef2"/><stop offset="0.8438" stop-color="#3656ec"/><stop offset="0.8750" stop-color="#3a4de6"/><stop offset="0.9062" stop-color="#3c44de"/><stop offset="0.9375" stop-color="#3f39cc"/><stop offset="0.9688" stop-color="#422fbb"/><stop offset="1.0000" stop-color="#4424aa"/></linearGradient></defs><rect x="234.3" y="12.5" width="8.80" height="199.00" fill="url(#g12)" stroke="#8c8c8c" stroke-width="0.9"/><path d="M243.1 171.70h-1.8" stroke="#444" stroke-width="0.8"/><text x="247.00" y="176.10" font-size="11.6" text-anchor="start" fill="#1a1a1a" stroke="#1a1a1a" stroke-width="0.25">1800</text><path d="M243.1 131.90h-1.8" stroke="#444" stroke-width="0.8"/><text x="247.00" y="136.30" font-size="11.6" text-anchor="start" fill="#1a1a1a" stroke="#1a1a1a" stroke-width="0.25">1850</text><path d="M243.1 92.10h-1.8" stroke="#444" stroke-width="0.8"/><text x="247.00" y="96.50" font-size="11.6" text-anchor="start" fill="#1a1a1a" stroke="#1a1a1a" stroke-width="0.25">1900</text><path d="M243.1 52.30h-1.8" stroke="#444" stroke-width="0.8"/><text x="247.00" y="56.70" font-size="11.6" text-anchor="start" fill="#1a1a1a" stroke="#1a1a1a" stroke-width="0.25">1950</text><path d="M243.1 12.50h-1.8" stroke="#444" stroke-width="0.8"/><text x="247.00" y="16.90" font-size="11.6" text-anchor="start" fill="#1a1a1a" stroke="#1a1a1a" stroke-width="0.25">2000</text><defs><linearGradient id="g286" x1="0" y1="0" x2="0" y2="1"><stop offset="0.0000" stop-color="#f5f20a"/><stop offset="0.0312" stop-color="#f7e70e"/><stop offset="0.0625" stop-color="#f8dd12"/><stop offset="0.0938" stop-color="#fad215"/><stop offset="0.1250" stop-color="#fac81a"/><stop offset="0.1562" stop-color="#f9be1e"/><stop offset="0.1875" stop-color="#f8b422"/><stop offset="0.2188" stop-color="#e9b224"/><stop offset="0.2500" stop-color="#c8b627"/><stop offset="0.2812" stop-color="#99be33"/><stop offset="0.3125" stop-color="#5fc34b"/><stop offset="0.3438" stop-color="#25c666"/><stop offset="0.3750" stop-color="#11c774"/><stop offset="0.4062" stop-color="#00c683"/><stop offset="0.4375" stop-color="#00c290"/><stop offset="0.4688" stop-color="#00bd9e"/><stop offset="0.5000" stop-color="#00b9ac"/><stop offset="0.5312" stop-color="#02b3bc"/><stop offset="0.5625" stop-color="#03accb"/><stop offset="0.5938" stop-color="#05a6db"/><stop offset="0.6250" stop-color="#089ee2"/><stop offset="0.6562" stop-color="#0b94e8"/><stop offset="0.6875" stop-color="#0e8bee"/><stop offset="0.7188" stop-color="#1680f1"/><stop offset="0.7500" stop-color="#2074f2"/><stop offset="0.7812" stop-color="#2b69f4"/><stop offset="0.8125" stop-color="#335ef2"/><stop offset="0.8438" stop-color="#3656ec"/><stop offset="0.8750" stop-color="#3a4de6"/><stop offset="0.9062" stop-color="#3c44de"/><stop offset="0.9375" stop-color="#3f39cc"/><stop offset="0.9688" stop-color="#422fbb"/><stop offset="1.0000" stop-color="#4424aa"/></linearGradient></defs><rect x="234.3" y="286.8" width="8.80" height="199.20" fill="url(#g286)" stroke="#8c8c8c" stroke-width="0.9"/><path d="M243.1 463.87h-1.8" stroke="#444" stroke-width="0.8"/><text x="247.00" y="468.27" font-size="11.6" text-anchor="start" fill="#1a1a1a" stroke="#1a1a1a" stroke-width="0.25">1700</text><path d="M243.1 419.60h-1.8" stroke="#444" stroke-width="0.8"/><text x="247.00" y="424.00" font-size="11.6" text-anchor="start" fill="#1a1a1a" stroke="#1a1a1a" stroke-width="0.25">1800</text><path d="M243.1 375.33h-1.8" stroke="#444" stroke-width="0.8"/><text x="247.00" y="379.73" font-size="11.6" text-anchor="start" fill="#1a1a1a" stroke="#1a1a1a" stroke-width="0.25">1900</text><path d="M243.1 331.07h-1.8" stroke="#444" stroke-width="0.8"/><text x="247.00" y="335.47" font-size="11.6" text-anchor="start" fill="#1a1a1a" stroke="#1a1a1a" stroke-width="0.25">2000</text><path d="M243.1 286.80h-1.8" stroke="#444" stroke-width="0.8"/><text x="247.00" y="291.20" font-size="11.6" text-anchor="start" fill="#1a1a1a" stroke="#1a1a1a" stroke-width="0.25">2100</text><text x="129.80" y="247.60" font-size="14.5" text-anchor="middle" fill="#1a1a1a" stroke="#1a1a1a" stroke-width="0.25">X (km)</text><text x="129.80" y="522.00" font-size="14.5" text-anchor="middle" fill="#1a1a1a" stroke="#1a1a1a" stroke-width="0.25">X (km)</text><text x="17.40" y="112.00" font-size="14.5" text-anchor="middle" fill="#1a1a1a" stroke="#1a1a1a" stroke-width="0.25" transform="rotate(-90 17.4 112.0)">Y (km)</text><text x="17.40" y="386.50" font-size="14.5" text-anchor="middle" fill="#1a1a1a" stroke="#1a1a1a" stroke-width="0.25" transform="rotate(-90 17.4 386.5)">Y (km)</text><text x="299.40" y="111.50" font-size="14.5" text-anchor="middle" fill="#1a1a1a" stroke="#1a1a1a" stroke-width="0.25" transform="rotate(-90 299.4 111.5)">Altitude (m)</text><text x="299.40" y="386.00" font-size="14.5" text-anchor="middle" fill="#1a1a1a" stroke="#1a1a1a" stroke-width="0.25" transform="rotate(-90 299.4 386.0)">Altitude (m)</text><text x="436.50" y="247.60" font-size="14.5" text-anchor="middle" fill="#1a1a1a" stroke="#1a1a1a" stroke-width="0.25">Wind speed (m/s)</text><text x="436.50" y="522.00" font-size="14.5" text-anchor="middle" fill="#1a1a1a" stroke="#1a1a1a" stroke-width="0.25">Wind speed (m/s)</text></svg></body></html>
